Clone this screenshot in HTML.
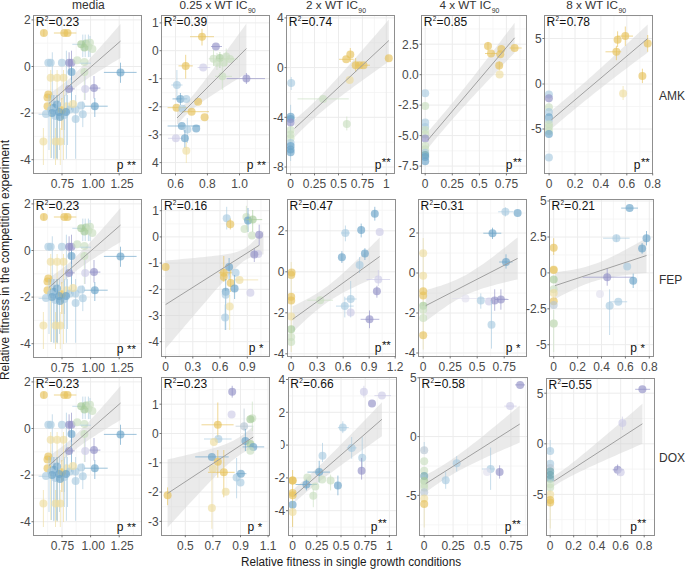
<!DOCTYPE html><html><head><meta charset="utf-8"><style>html,body{margin:0;padding:0;background:#fff;width:685px;height:569px;overflow:hidden}svg{display:block}</style></head><body><svg width="685" height="569" viewBox="0 0 685 569" font-family="Liberation Sans, sans-serif">
<rect width="685" height="569" fill="#fff"/>
<defs><filter id="soft" x="-5%" y="-5%" width="110%" height="110%"><feGaussianBlur stdDeviation="0.35"/></filter></defs>
<g>
<rect x="33.5" y="15.5" width="108.19999999999999" height="157.9" fill="#fff"/>
<line x1="47.7" y1="15.5" x2="47.7" y2="173.4" stroke="#f4f4f4" stroke-width="0.8"/>
<line x1="76.2" y1="15.5" x2="76.2" y2="173.4" stroke="#f4f4f4" stroke-width="0.8"/>
<line x1="104.8" y1="15.5" x2="104.8" y2="173.4" stroke="#f4f4f4" stroke-width="0.8"/>
<line x1="133.4" y1="15.5" x2="133.4" y2="173.4" stroke="#f4f4f4" stroke-width="0.8"/>
<line x1="33.5" y1="43.2" x2="141.7" y2="43.2" stroke="#f4f4f4" stroke-width="0.8"/>
<line x1="33.5" y1="89.8" x2="141.7" y2="89.8" stroke="#f4f4f4" stroke-width="0.8"/>
<line x1="33.5" y1="136.39999999999998" x2="141.7" y2="136.39999999999998" stroke="#f4f4f4" stroke-width="0.8"/>
<line x1="62" y1="15.5" x2="62" y2="173.4" stroke="#ececec" stroke-width="1"/>
<line x1="90.6" y1="15.5" x2="90.6" y2="173.4" stroke="#ececec" stroke-width="1"/>
<line x1="119.2" y1="15.5" x2="119.2" y2="173.4" stroke="#ececec" stroke-width="1"/>
<line x1="33.5" y1="19.9" x2="141.7" y2="19.9" stroke="#ececec" stroke-width="1"/>
<line x1="33.5" y1="66.5" x2="141.7" y2="66.5" stroke="#ececec" stroke-width="1"/>
<line x1="33.5" y1="113.1" x2="141.7" y2="113.1" stroke="#ececec" stroke-width="1"/>
<line x1="33.5" y1="159.7" x2="141.7" y2="159.7" stroke="#ececec" stroke-width="1"/>
<clipPath id="c140454145364480"><rect x="33.5" y="15.5" width="108.19999999999999" height="157.9"/></clipPath>
<g clip-path="url(#c140454145364480)"><g filter="url(#soft)">
<polygon points="49.0,93.89 51.38,92.29 53.77,90.66 56.15,88.98 58.53,87.26 60.92,85.48 63.3,83.64 65.68,81.74 68.07,79.76 70.45,77.71 72.83,75.58 75.22,73.38 77.6,71.1 79.98,68.76 82.37,66.36 84.75,63.91 87.13,61.42 89.52,58.89 91.9,56.32 94.28,53.72 96.67,51.1 99.05,48.46 101.43,45.8 103.82,43.12 106.2,40.43 108.58,37.73 110.97,35.02 113.35,32.3 115.73,29.57 118.12,26.84 120.5,24.1 120.5,58.1 118.12,59.51 115.73,60.93 113.35,62.36 110.97,63.79 108.58,65.23 106.2,66.69 103.82,68.15 101.43,69.63 99.05,71.12 96.67,72.63 94.28,74.17 91.9,75.72 89.52,77.31 87.13,78.93 84.75,80.59 82.37,82.29 79.98,84.04 77.6,85.86 75.22,87.74 72.83,89.69 70.45,91.71 68.07,93.81 65.68,95.99 63.3,98.24 60.92,100.55 58.53,102.93 56.15,105.36 53.77,107.84 51.38,110.36 49.0,112.91" fill="#d6d6d6" fill-opacity="0.5"/>
<line x1="43.9" y1="29.8" x2="43.9" y2="36.2" stroke="#e6c25a" stroke-width="1" stroke-opacity="0.65"/>
<circle cx="43.9" cy="33" r="4" fill="#e6c25a" fill-opacity="0.65"/>
<line x1="53.9" y1="33" x2="76.4" y2="33" stroke="#e6c25a" stroke-width="1" stroke-opacity="0.65"/>
<circle cx="64.3" cy="33" r="4" fill="#e6c25a" fill-opacity="0.65"/>
<circle cx="67.5" cy="33" r="4" fill="#e6c25a" fill-opacity="0.65"/>
<line x1="72.3" y1="44.3" x2="84.4" y2="44.3" stroke="#a9cbe0" stroke-width="1" stroke-opacity="0.65"/>
<line x1="82.8" y1="34.6" x2="82.8" y2="57.1" stroke="#a9cbe0" stroke-width="1" stroke-opacity="0.65"/>
<line x1="85.2" y1="34.6" x2="85.2" y2="57.1" stroke="#a9cbe0" stroke-width="1" stroke-opacity="0.65"/>
<line x1="88.4" y1="34.6" x2="88.4" y2="57.1" stroke="#a9cbe0" stroke-width="1" stroke-opacity="0.65"/>
<line x1="90" y1="36" x2="90" y2="57.1" stroke="#a9cbe0" stroke-width="1" stroke-opacity="0.65"/>
<circle cx="81.2" cy="44.3" r="4" fill="#a6cb99" fill-opacity="0.65"/>
<circle cx="86" cy="43.5" r="4" fill="#a6cb99" fill-opacity="0.65"/>
<circle cx="88.4" cy="46.7" r="4" fill="#cadfc0" fill-opacity="0.65"/>
<circle cx="92.4" cy="49.1" r="4" fill="#cadfc0" fill-opacity="0.65"/>
<circle cx="84.4" cy="47.5" r="4" fill="#a6cb99" fill-opacity="0.65"/>
<circle cx="90" cy="42.7" r="4" fill="#cadfc0" fill-opacity="0.65"/>
<line x1="66.4" y1="50.7" x2="66.4" y2="158.8" stroke="#a9cbe0" stroke-width="1" stroke-opacity="0.65"/>
<line x1="52.3" y1="52.3" x2="52.3" y2="109" stroke="#a9cbe0" stroke-width="1" stroke-opacity="0.65"/>
<circle cx="48.3" cy="62.7" r="4" fill="#a9cbe0" fill-opacity="0.65"/>
<circle cx="50.7" cy="62.7" r="4" fill="#a9cbe0" fill-opacity="0.65"/>
<circle cx="61.9" cy="62.7" r="4" fill="#a9cbe0" fill-opacity="0.65"/>
<line x1="69.1" y1="52.3" x2="69.1" y2="74.8" stroke="#9290c6" stroke-width="1" stroke-opacity="0.65"/>
<circle cx="69.1" cy="62.7" r="4" fill="#9290c6" fill-opacity="0.65"/>
<line x1="71.5" y1="50.7" x2="71.5" y2="80" stroke="#9290c6" stroke-width="1" stroke-opacity="0.65"/>
<circle cx="71.5" cy="62.7" r="4" fill="#9290c6" fill-opacity="0.65"/>
<circle cx="77.2" cy="60.3" r="4" fill="#cadfc0" fill-opacity="0.65"/>
<circle cx="84.4" cy="62" r="4" fill="#cadfc0" fill-opacity="0.65"/>
<line x1="79.6" y1="63.2" x2="90.8" y2="63.2" stroke="#a9cbe0" stroke-width="1" stroke-opacity="0.65"/>
<line x1="103.9" y1="72.4" x2="136.6" y2="72.4" stroke="#6aa3c8" stroke-width="1" stroke-opacity="0.65"/>
<line x1="120.5" y1="62.7" x2="120.5" y2="82.8" stroke="#6aa3c8" stroke-width="1" stroke-opacity="0.65"/>
<circle cx="120.5" cy="72.4" r="4" fill="#6aa3c8" fill-opacity="0.65"/>
<line x1="71.5" y1="66.4" x2="71.5" y2="109.8" stroke="#6aa3c8" stroke-width="1" stroke-opacity="0.65"/>
<circle cx="71.5" cy="72" r="4" fill="#6aa3c8" fill-opacity="0.65"/>
<line x1="84.4" y1="68" x2="84.4" y2="100" stroke="#cadfc0" stroke-width="1" stroke-opacity="0.65"/>
<circle cx="84.4" cy="72" r="4" fill="#cadfc0" fill-opacity="0.65"/>
<line x1="50.7" y1="70" x2="50.7" y2="158" stroke="#eedda0" stroke-width="1" stroke-opacity="0.65"/>
<circle cx="50.7" cy="77.7" r="4" fill="#eedda0" fill-opacity="0.65"/>
<line x1="57.1" y1="70" x2="57.1" y2="160" stroke="#eedda0" stroke-width="1" stroke-opacity="0.65"/>
<circle cx="57.1" cy="77.7" r="4" fill="#eedda0" fill-opacity="0.65"/>
<line x1="63.5" y1="70" x2="63.5" y2="160" stroke="#eedda0" stroke-width="1" stroke-opacity="0.65"/>
<circle cx="63.5" cy="77.7" r="4" fill="#eedda0" fill-opacity="0.65"/>
<line x1="65.1" y1="88.9" x2="74.8" y2="88.9" stroke="#9290c6" stroke-width="1" stroke-opacity="0.65"/>
<circle cx="69.1" cy="88.9" r="4" fill="#9290c6" fill-opacity="0.65"/>
<line x1="85.2" y1="76" x2="85.2" y2="100" stroke="#cdcbe6" stroke-width="1" stroke-opacity="0.65"/>
<circle cx="85.2" cy="88.9" r="4" fill="#cdcbe6" fill-opacity="0.65"/>
<line x1="89.2" y1="88.1" x2="100.4" y2="88.1" stroke="#9290c6" stroke-width="1" stroke-opacity="0.65"/>
<line x1="94" y1="76" x2="94" y2="98.5" stroke="#9290c6" stroke-width="1" stroke-opacity="0.65"/>
<circle cx="94" cy="88.1" r="4" fill="#9290c6" fill-opacity="0.65"/>
<circle cx="48.3" cy="94.5" r="4" fill="#e6c25a" fill-opacity="0.65"/>
<circle cx="47.5" cy="97.4" r="4" fill="#e6c25a" fill-opacity="0.65"/>
<circle cx="47.5" cy="106.2" r="4" fill="#e6c25a" fill-opacity="0.65"/>
<line x1="53.9" y1="95" x2="53.9" y2="158.8" stroke="#6aa3c8" stroke-width="1" stroke-opacity="0.65"/>
<circle cx="53.9" cy="107.8" r="4" fill="#6aa3c8" fill-opacity="0.65"/>
<line x1="57.1" y1="95" x2="57.1" y2="158.8" stroke="#6aa3c8" stroke-width="1" stroke-opacity="0.65"/>
<circle cx="57.1" cy="104.6" r="4" fill="#6aa3c8" fill-opacity="0.65"/>
<circle cx="55.5" cy="115.9" r="4" fill="#a9cbe0" fill-opacity="0.65"/>
<line x1="64.3" y1="97" x2="64.3" y2="130" stroke="#a9cbe0" stroke-width="1" stroke-opacity="0.65"/>
<circle cx="64.3" cy="115.1" r="4" fill="#a9cbe0" fill-opacity="0.65"/>
<line x1="61.9" y1="98" x2="61.9" y2="130" stroke="#e6c25a" stroke-width="1" stroke-opacity="0.65"/>
<circle cx="61.9" cy="110.3" r="4" fill="#e6c25a" fill-opacity="0.65"/>
<circle cx="66.7" cy="106.2" r="4" fill="#eedda0" fill-opacity="0.65"/>
<circle cx="69.9" cy="109.5" r="4" fill="#a9cbe0" fill-opacity="0.65"/>
<line x1="75.6" y1="95" x2="75.6" y2="158.8" stroke="#a9cbe0" stroke-width="1" stroke-opacity="0.65"/>
<circle cx="75.6" cy="109.5" r="4" fill="#a9cbe0" fill-opacity="0.65"/>
<circle cx="75.6" cy="119.1" r="4" fill="#a9cbe0" fill-opacity="0.65"/>
<circle cx="81.2" cy="105.4" r="4" fill="#a9cbe0" fill-opacity="0.65"/>
<line x1="82.8" y1="101.4" x2="82.8" y2="127.1" stroke="#a9cbe0" stroke-width="1" stroke-opacity="0.65"/>
<circle cx="82.8" cy="114.3" r="4" fill="#a9cbe0" fill-opacity="0.65"/>
<line x1="84.4" y1="106.2" x2="107.7" y2="106.2" stroke="#6aa3c8" stroke-width="1" stroke-opacity="0.65"/>
<line x1="94.8" y1="98" x2="94.8" y2="117" stroke="#6aa3c8" stroke-width="1" stroke-opacity="0.65"/>
<circle cx="94.8" cy="106.2" r="4" fill="#6aa3c8" fill-opacity="0.65"/>
<line x1="38.6" y1="114.3" x2="49.1" y2="114.3" stroke="#a9cbe0" stroke-width="1" stroke-opacity="0.65"/>
<line x1="49" y1="95" x2="49" y2="150" stroke="#a9cbe0" stroke-width="1" stroke-opacity="0.65"/>
<line x1="51.5" y1="95" x2="51.5" y2="158" stroke="#a9cbe0" stroke-width="1" stroke-opacity="0.65"/>
<line x1="56.3" y1="95" x2="56.3" y2="158" stroke="#a9cbe0" stroke-width="1" stroke-opacity="0.65"/>
<line x1="59.5" y1="95" x2="59.5" y2="150" stroke="#a9cbe0" stroke-width="1" stroke-opacity="0.65"/>
<line x1="64.3" y1="95" x2="64.3" y2="145" stroke="#a9cbe0" stroke-width="1" stroke-opacity="0.65"/>
<line x1="67.5" y1="95" x2="67.5" y2="145" stroke="#a9cbe0" stroke-width="1" stroke-opacity="0.65"/>
<circle cx="59" cy="112" r="4" fill="#6aa3c8" fill-opacity="0.65"/>
<circle cx="51" cy="110" r="4" fill="#a9cbe0" fill-opacity="0.65"/>
<circle cx="73" cy="104" r="4" fill="#eedda0" fill-opacity="0.65"/>
<circle cx="52" cy="113" r="4" fill="#6aa3c8" fill-opacity="0.65"/>
<circle cx="60" cy="117" r="4" fill="#6aa3c8" fill-opacity="0.65"/>
<circle cx="46" cy="114" r="4" fill="#a9cbe0" fill-opacity="0.65"/>
<circle cx="66" cy="112" r="4" fill="#6aa3c8" fill-opacity="0.65"/>
<line x1="43.4" y1="128" x2="43.4" y2="165" stroke="#eedda0" stroke-width="1" stroke-opacity="0.65"/>
<circle cx="43.4" cy="141.6" r="4" fill="#eedda0" fill-opacity="0.65"/>
<line x1="55.5" y1="128" x2="55.5" y2="165" stroke="#eedda0" stroke-width="1" stroke-opacity="0.65"/>
<circle cx="55.5" cy="141.6" r="4" fill="#eedda0" fill-opacity="0.65"/>
<line x1="60.3" y1="128" x2="60.3" y2="165" stroke="#eedda0" stroke-width="1" stroke-opacity="0.65"/>
<circle cx="60.3" cy="141.6" r="4" fill="#eedda0" fill-opacity="0.65"/>
<line x1="49" y1="103.4" x2="120.5" y2="41.1" stroke="#a0a0a0" stroke-width="1"/>
</g></g>
<rect x="33.5" y="15.5" width="108.0" height="158.0" fill="none" stroke="#8f8f8f" stroke-width="1"/>
<line x1="62" y1="173.4" x2="62" y2="175.4" stroke="#555" stroke-width="0.8"/>
<text x="62.5" y="187.5" text-anchor="middle" font-size="12" fill="#4a4a4a">0.75</text>
<line x1="90.6" y1="173.4" x2="90.6" y2="175.4" stroke="#555" stroke-width="0.8"/>
<text x="93.19999999999999" y="187.5" text-anchor="middle" font-size="12" fill="#4a4a4a">1.00</text>
<line x1="119.2" y1="173.4" x2="119.2" y2="175.4" stroke="#555" stroke-width="0.8"/>
<text x="122.10000000000001" y="187.5" text-anchor="middle" font-size="12" fill="#4a4a4a">1.25</text>
<line x1="31.5" y1="19.9" x2="33.5" y2="19.9" stroke="#555" stroke-width="0.8"/>
<text x="30.7" y="24.2" text-anchor="end" font-size="12" fill="#4a4a4a">2</text>
<line x1="31.5" y1="66.5" x2="33.5" y2="66.5" stroke="#555" stroke-width="0.8"/>
<text x="30.7" y="70.8" text-anchor="end" font-size="12" fill="#4a4a4a">0</text>
<line x1="31.5" y1="113.1" x2="33.5" y2="113.1" stroke="#555" stroke-width="0.8"/>
<text x="30.7" y="117.39999999999999" text-anchor="end" font-size="12" fill="#4a4a4a">-2</text>
<line x1="31.5" y1="159.7" x2="33.5" y2="159.7" stroke="#555" stroke-width="0.8"/>
<text x="30.7" y="164.0" text-anchor="end" font-size="12" fill="#4a4a4a">-4</text>
<text x="35.7" y="25.8" font-size="12" fill="#111">R<tspan font-size="6.4" dy="-4.9" dx="0.3">2</tspan><tspan dy="4.9" dx="0.2">=</tspan><tspan dx="0.3">0.23</tspan></text>
<text x="116.7" y="168.70000000000002" font-size="12" fill="#111">p<tspan font-size="11.5" dy="0.3" dx="3.6">**</tspan></text>
</g>
<g>
<rect x="33.5" y="199.5" width="108.19999999999999" height="157.8" fill="#fff"/>
<line x1="47.7" y1="199.5" x2="47.7" y2="357.3" stroke="#f4f4f4" stroke-width="0.8"/>
<line x1="76.2" y1="199.5" x2="76.2" y2="357.3" stroke="#f4f4f4" stroke-width="0.8"/>
<line x1="104.8" y1="199.5" x2="104.8" y2="357.3" stroke="#f4f4f4" stroke-width="0.8"/>
<line x1="133.4" y1="199.5" x2="133.4" y2="357.3" stroke="#f4f4f4" stroke-width="0.8"/>
<line x1="33.5" y1="227.2" x2="141.7" y2="227.2" stroke="#f4f4f4" stroke-width="0.8"/>
<line x1="33.5" y1="273.8" x2="141.7" y2="273.8" stroke="#f4f4f4" stroke-width="0.8"/>
<line x1="33.5" y1="320.4" x2="141.7" y2="320.4" stroke="#f4f4f4" stroke-width="0.8"/>
<line x1="62" y1="199.5" x2="62" y2="357.3" stroke="#ececec" stroke-width="1"/>
<line x1="90.6" y1="199.5" x2="90.6" y2="357.3" stroke="#ececec" stroke-width="1"/>
<line x1="119.2" y1="199.5" x2="119.2" y2="357.3" stroke="#ececec" stroke-width="1"/>
<line x1="33.5" y1="203.9" x2="141.7" y2="203.9" stroke="#ececec" stroke-width="1"/>
<line x1="33.5" y1="250.5" x2="141.7" y2="250.5" stroke="#ececec" stroke-width="1"/>
<line x1="33.5" y1="297.1" x2="141.7" y2="297.1" stroke="#ececec" stroke-width="1"/>
<line x1="33.5" y1="343.7" x2="141.7" y2="343.7" stroke="#ececec" stroke-width="1"/>
<clipPath id="c140454145359232"><rect x="33.5" y="199.5" width="108.19999999999999" height="157.8"/></clipPath>
<g clip-path="url(#c140454145359232)"><g filter="url(#soft)">
<polygon points="49.0,277.89 51.38,276.29 53.77,274.66 56.15,272.98 58.53,271.26 60.92,269.48 63.3,267.64 65.68,265.74 68.07,263.76 70.45,261.71 72.83,259.58 75.22,257.38 77.6,255.1 79.98,252.76 82.37,250.36 84.75,247.91 87.13,245.42 89.52,242.89 91.9,240.32 94.28,237.72 96.67,235.1 99.05,232.46 101.43,229.8 103.82,227.12 106.2,224.43 108.58,221.73 110.97,219.02 113.35,216.3 115.73,213.57 118.12,210.84 120.5,208.1 120.5,242.1 118.12,243.51 115.73,244.93 113.35,246.36 110.97,247.79 108.58,249.23 106.2,250.69 103.82,252.15 101.43,253.63 99.05,255.12 96.67,256.63 94.28,258.17 91.9,259.72 89.52,261.31 87.13,262.93 84.75,264.59 82.37,266.29 79.98,268.04 77.6,269.86 75.22,271.74 72.83,273.69 70.45,275.71 68.07,277.81 65.68,279.99 63.3,282.24 60.92,284.55 58.53,286.93 56.15,289.36 53.77,291.84 51.38,294.36 49.0,296.91" fill="#d6d6d6" fill-opacity="0.5"/>
<line x1="43.9" y1="213.8" x2="43.9" y2="220.2" stroke="#e6c25a" stroke-width="1" stroke-opacity="0.65"/>
<circle cx="43.9" cy="217" r="4" fill="#e6c25a" fill-opacity="0.65"/>
<line x1="53.9" y1="217" x2="76.4" y2="217" stroke="#e6c25a" stroke-width="1" stroke-opacity="0.65"/>
<circle cx="64.3" cy="217" r="4" fill="#e6c25a" fill-opacity="0.65"/>
<circle cx="67.5" cy="217" r="4" fill="#e6c25a" fill-opacity="0.65"/>
<line x1="72.3" y1="228.3" x2="84.4" y2="228.3" stroke="#a9cbe0" stroke-width="1" stroke-opacity="0.65"/>
<line x1="82.8" y1="218.6" x2="82.8" y2="241.1" stroke="#a9cbe0" stroke-width="1" stroke-opacity="0.65"/>
<line x1="85.2" y1="218.6" x2="85.2" y2="241.1" stroke="#a9cbe0" stroke-width="1" stroke-opacity="0.65"/>
<line x1="88.4" y1="218.6" x2="88.4" y2="241.1" stroke="#a9cbe0" stroke-width="1" stroke-opacity="0.65"/>
<line x1="90" y1="220" x2="90" y2="241.1" stroke="#a9cbe0" stroke-width="1" stroke-opacity="0.65"/>
<circle cx="81.2" cy="228.3" r="4" fill="#a6cb99" fill-opacity="0.65"/>
<circle cx="86" cy="227.5" r="4" fill="#a6cb99" fill-opacity="0.65"/>
<circle cx="88.4" cy="230.7" r="4" fill="#cadfc0" fill-opacity="0.65"/>
<circle cx="92.4" cy="233.1" r="4" fill="#cadfc0" fill-opacity="0.65"/>
<circle cx="84.4" cy="231.5" r="4" fill="#a6cb99" fill-opacity="0.65"/>
<circle cx="90" cy="226.7" r="4" fill="#cadfc0" fill-opacity="0.65"/>
<line x1="66.4" y1="234.7" x2="66.4" y2="342.8" stroke="#a9cbe0" stroke-width="1" stroke-opacity="0.65"/>
<line x1="52.3" y1="236.3" x2="52.3" y2="293" stroke="#a9cbe0" stroke-width="1" stroke-opacity="0.65"/>
<circle cx="48.3" cy="246.7" r="4" fill="#a9cbe0" fill-opacity="0.65"/>
<circle cx="50.7" cy="246.7" r="4" fill="#a9cbe0" fill-opacity="0.65"/>
<circle cx="61.9" cy="246.7" r="4" fill="#a9cbe0" fill-opacity="0.65"/>
<line x1="69.1" y1="236.3" x2="69.1" y2="258.8" stroke="#9290c6" stroke-width="1" stroke-opacity="0.65"/>
<circle cx="69.1" cy="246.7" r="4" fill="#9290c6" fill-opacity="0.65"/>
<line x1="71.5" y1="234.7" x2="71.5" y2="264" stroke="#9290c6" stroke-width="1" stroke-opacity="0.65"/>
<circle cx="71.5" cy="246.7" r="4" fill="#9290c6" fill-opacity="0.65"/>
<circle cx="77.2" cy="244.3" r="4" fill="#cadfc0" fill-opacity="0.65"/>
<circle cx="84.4" cy="246" r="4" fill="#cadfc0" fill-opacity="0.65"/>
<line x1="79.6" y1="247.2" x2="90.8" y2="247.2" stroke="#a9cbe0" stroke-width="1" stroke-opacity="0.65"/>
<line x1="103.9" y1="256.4" x2="136.6" y2="256.4" stroke="#6aa3c8" stroke-width="1" stroke-opacity="0.65"/>
<line x1="120.5" y1="246.7" x2="120.5" y2="266.8" stroke="#6aa3c8" stroke-width="1" stroke-opacity="0.65"/>
<circle cx="120.5" cy="256.4" r="4" fill="#6aa3c8" fill-opacity="0.65"/>
<line x1="71.5" y1="250.4" x2="71.5" y2="293.8" stroke="#6aa3c8" stroke-width="1" stroke-opacity="0.65"/>
<circle cx="71.5" cy="256" r="4" fill="#6aa3c8" fill-opacity="0.65"/>
<line x1="84.4" y1="252" x2="84.4" y2="284" stroke="#cadfc0" stroke-width="1" stroke-opacity="0.65"/>
<circle cx="84.4" cy="256" r="4" fill="#cadfc0" fill-opacity="0.65"/>
<line x1="50.7" y1="254" x2="50.7" y2="342" stroke="#eedda0" stroke-width="1" stroke-opacity="0.65"/>
<circle cx="50.7" cy="261.7" r="4" fill="#eedda0" fill-opacity="0.65"/>
<line x1="57.1" y1="254" x2="57.1" y2="344" stroke="#eedda0" stroke-width="1" stroke-opacity="0.65"/>
<circle cx="57.1" cy="261.7" r="4" fill="#eedda0" fill-opacity="0.65"/>
<line x1="63.5" y1="254" x2="63.5" y2="344" stroke="#eedda0" stroke-width="1" stroke-opacity="0.65"/>
<circle cx="63.5" cy="261.7" r="4" fill="#eedda0" fill-opacity="0.65"/>
<line x1="65.1" y1="272.9" x2="74.8" y2="272.9" stroke="#9290c6" stroke-width="1" stroke-opacity="0.65"/>
<circle cx="69.1" cy="272.9" r="4" fill="#9290c6" fill-opacity="0.65"/>
<line x1="85.2" y1="260" x2="85.2" y2="284" stroke="#cdcbe6" stroke-width="1" stroke-opacity="0.65"/>
<circle cx="85.2" cy="272.9" r="4" fill="#cdcbe6" fill-opacity="0.65"/>
<line x1="89.2" y1="272.1" x2="100.4" y2="272.1" stroke="#9290c6" stroke-width="1" stroke-opacity="0.65"/>
<line x1="94" y1="260" x2="94" y2="282.5" stroke="#9290c6" stroke-width="1" stroke-opacity="0.65"/>
<circle cx="94" cy="272.1" r="4" fill="#9290c6" fill-opacity="0.65"/>
<circle cx="48.3" cy="278.5" r="4" fill="#e6c25a" fill-opacity="0.65"/>
<circle cx="47.5" cy="281.4" r="4" fill="#e6c25a" fill-opacity="0.65"/>
<circle cx="47.5" cy="290.2" r="4" fill="#e6c25a" fill-opacity="0.65"/>
<line x1="53.9" y1="279" x2="53.9" y2="342.8" stroke="#6aa3c8" stroke-width="1" stroke-opacity="0.65"/>
<circle cx="53.9" cy="291.8" r="4" fill="#6aa3c8" fill-opacity="0.65"/>
<line x1="57.1" y1="279" x2="57.1" y2="342.8" stroke="#6aa3c8" stroke-width="1" stroke-opacity="0.65"/>
<circle cx="57.1" cy="288.6" r="4" fill="#6aa3c8" fill-opacity="0.65"/>
<circle cx="55.5" cy="299.9" r="4" fill="#a9cbe0" fill-opacity="0.65"/>
<line x1="64.3" y1="281" x2="64.3" y2="314" stroke="#a9cbe0" stroke-width="1" stroke-opacity="0.65"/>
<circle cx="64.3" cy="299.1" r="4" fill="#a9cbe0" fill-opacity="0.65"/>
<line x1="61.9" y1="282" x2="61.9" y2="314" stroke="#e6c25a" stroke-width="1" stroke-opacity="0.65"/>
<circle cx="61.9" cy="294.3" r="4" fill="#e6c25a" fill-opacity="0.65"/>
<circle cx="66.7" cy="290.2" r="4" fill="#eedda0" fill-opacity="0.65"/>
<circle cx="69.9" cy="293.5" r="4" fill="#a9cbe0" fill-opacity="0.65"/>
<line x1="75.6" y1="279" x2="75.6" y2="342.8" stroke="#a9cbe0" stroke-width="1" stroke-opacity="0.65"/>
<circle cx="75.6" cy="293.5" r="4" fill="#a9cbe0" fill-opacity="0.65"/>
<circle cx="75.6" cy="303.1" r="4" fill="#a9cbe0" fill-opacity="0.65"/>
<circle cx="81.2" cy="289.4" r="4" fill="#a9cbe0" fill-opacity="0.65"/>
<line x1="82.8" y1="285.4" x2="82.8" y2="311.1" stroke="#a9cbe0" stroke-width="1" stroke-opacity="0.65"/>
<circle cx="82.8" cy="298.3" r="4" fill="#a9cbe0" fill-opacity="0.65"/>
<line x1="84.4" y1="290.2" x2="107.7" y2="290.2" stroke="#6aa3c8" stroke-width="1" stroke-opacity="0.65"/>
<line x1="94.8" y1="282" x2="94.8" y2="301" stroke="#6aa3c8" stroke-width="1" stroke-opacity="0.65"/>
<circle cx="94.8" cy="290.2" r="4" fill="#6aa3c8" fill-opacity="0.65"/>
<line x1="38.6" y1="298.3" x2="49.1" y2="298.3" stroke="#a9cbe0" stroke-width="1" stroke-opacity="0.65"/>
<line x1="49" y1="279" x2="49" y2="334" stroke="#a9cbe0" stroke-width="1" stroke-opacity="0.65"/>
<line x1="51.5" y1="279" x2="51.5" y2="342" stroke="#a9cbe0" stroke-width="1" stroke-opacity="0.65"/>
<line x1="56.3" y1="279" x2="56.3" y2="342" stroke="#a9cbe0" stroke-width="1" stroke-opacity="0.65"/>
<line x1="59.5" y1="279" x2="59.5" y2="334" stroke="#a9cbe0" stroke-width="1" stroke-opacity="0.65"/>
<line x1="64.3" y1="279" x2="64.3" y2="329" stroke="#a9cbe0" stroke-width="1" stroke-opacity="0.65"/>
<line x1="67.5" y1="279" x2="67.5" y2="329" stroke="#a9cbe0" stroke-width="1" stroke-opacity="0.65"/>
<circle cx="59" cy="296" r="4" fill="#6aa3c8" fill-opacity="0.65"/>
<circle cx="51" cy="294" r="4" fill="#a9cbe0" fill-opacity="0.65"/>
<circle cx="73" cy="288" r="4" fill="#eedda0" fill-opacity="0.65"/>
<circle cx="52" cy="297" r="4" fill="#6aa3c8" fill-opacity="0.65"/>
<circle cx="60" cy="301" r="4" fill="#6aa3c8" fill-opacity="0.65"/>
<circle cx="46" cy="298" r="4" fill="#a9cbe0" fill-opacity="0.65"/>
<circle cx="66" cy="296" r="4" fill="#6aa3c8" fill-opacity="0.65"/>
<line x1="43.4" y1="312" x2="43.4" y2="349" stroke="#eedda0" stroke-width="1" stroke-opacity="0.65"/>
<circle cx="43.4" cy="325.6" r="4" fill="#eedda0" fill-opacity="0.65"/>
<line x1="55.5" y1="312" x2="55.5" y2="349" stroke="#eedda0" stroke-width="1" stroke-opacity="0.65"/>
<circle cx="55.5" cy="325.6" r="4" fill="#eedda0" fill-opacity="0.65"/>
<line x1="60.3" y1="312" x2="60.3" y2="349" stroke="#eedda0" stroke-width="1" stroke-opacity="0.65"/>
<circle cx="60.3" cy="325.6" r="4" fill="#eedda0" fill-opacity="0.65"/>
<line x1="49" y1="287.4" x2="120.5" y2="225.1" stroke="#a0a0a0" stroke-width="1"/>
</g></g>
<rect x="33.5" y="199.5" width="108.0" height="158.0" fill="none" stroke="#8f8f8f" stroke-width="1"/>
<line x1="62" y1="357.3" x2="62" y2="359.3" stroke="#555" stroke-width="0.8"/>
<text x="62.5" y="372.0" text-anchor="middle" font-size="12" fill="#4a4a4a">0.75</text>
<line x1="90.6" y1="357.3" x2="90.6" y2="359.3" stroke="#555" stroke-width="0.8"/>
<text x="93.19999999999999" y="372.0" text-anchor="middle" font-size="12" fill="#4a4a4a">1.00</text>
<line x1="119.2" y1="357.3" x2="119.2" y2="359.3" stroke="#555" stroke-width="0.8"/>
<text x="122.10000000000001" y="372.0" text-anchor="middle" font-size="12" fill="#4a4a4a">1.25</text>
<line x1="31.5" y1="203.9" x2="33.5" y2="203.9" stroke="#555" stroke-width="0.8"/>
<text x="30.7" y="208.20000000000002" text-anchor="end" font-size="12" fill="#4a4a4a">2</text>
<line x1="31.5" y1="250.5" x2="33.5" y2="250.5" stroke="#555" stroke-width="0.8"/>
<text x="30.7" y="254.8" text-anchor="end" font-size="12" fill="#4a4a4a">0</text>
<line x1="31.5" y1="297.1" x2="33.5" y2="297.1" stroke="#555" stroke-width="0.8"/>
<text x="30.7" y="301.40000000000003" text-anchor="end" font-size="12" fill="#4a4a4a">-2</text>
<line x1="31.5" y1="343.7" x2="33.5" y2="343.7" stroke="#555" stroke-width="0.8"/>
<text x="30.7" y="348.0" text-anchor="end" font-size="12" fill="#4a4a4a">-4</text>
<text x="35.7" y="209.8" font-size="12" fill="#111">R<tspan font-size="6.4" dy="-4.9" dx="0.3">2</tspan><tspan dy="4.9" dx="0.2">=</tspan><tspan dx="0.3">0.23</tspan></text>
<text x="116.7" y="352.6" font-size="12" fill="#111">p<tspan font-size="11.5" dy="0.3" dx="3.6">**</tspan></text>
</g>
<g>
<rect x="33.5" y="377.6" width="108.19999999999999" height="157.69999999999993" fill="#fff"/>
<line x1="47.7" y1="377.6" x2="47.7" y2="535.3" stroke="#f4f4f4" stroke-width="0.8"/>
<line x1="76.2" y1="377.6" x2="76.2" y2="535.3" stroke="#f4f4f4" stroke-width="0.8"/>
<line x1="104.8" y1="377.6" x2="104.8" y2="535.3" stroke="#f4f4f4" stroke-width="0.8"/>
<line x1="133.4" y1="377.6" x2="133.4" y2="535.3" stroke="#f4f4f4" stroke-width="0.8"/>
<line x1="33.5" y1="405.2" x2="141.7" y2="405.2" stroke="#f4f4f4" stroke-width="0.8"/>
<line x1="33.5" y1="451.8" x2="141.7" y2="451.8" stroke="#f4f4f4" stroke-width="0.8"/>
<line x1="33.5" y1="498.40000000000003" x2="141.7" y2="498.40000000000003" stroke="#f4f4f4" stroke-width="0.8"/>
<line x1="62" y1="377.6" x2="62" y2="535.3" stroke="#ececec" stroke-width="1"/>
<line x1="90.6" y1="377.6" x2="90.6" y2="535.3" stroke="#ececec" stroke-width="1"/>
<line x1="119.2" y1="377.6" x2="119.2" y2="535.3" stroke="#ececec" stroke-width="1"/>
<line x1="33.5" y1="381.9" x2="141.7" y2="381.9" stroke="#ececec" stroke-width="1"/>
<line x1="33.5" y1="428.5" x2="141.7" y2="428.5" stroke="#ececec" stroke-width="1"/>
<line x1="33.5" y1="475.1" x2="141.7" y2="475.1" stroke="#ececec" stroke-width="1"/>
<line x1="33.5" y1="521.7" x2="141.7" y2="521.7" stroke="#ececec" stroke-width="1"/>
<clipPath id="c140454145515584"><rect x="33.5" y="377.6" width="108.19999999999999" height="157.69999999999993"/></clipPath>
<g clip-path="url(#c140454145515584)"><g filter="url(#soft)">
<polygon points="49.0,455.89 51.38,454.29 53.77,452.66 56.15,450.98 58.53,449.26 60.92,447.48 63.3,445.64 65.68,443.74 68.07,441.76 70.45,439.71 72.83,437.58 75.22,435.38 77.6,433.1 79.98,430.76 82.37,428.36 84.75,425.91 87.13,423.42 89.52,420.89 91.9,418.32 94.28,415.72 96.67,413.1 99.05,410.46 101.43,407.8 103.82,405.12 106.2,402.43 108.58,399.73 110.97,397.02 113.35,394.3 115.73,391.57 118.12,388.84 120.5,386.1 120.5,420.1 118.12,421.51 115.73,422.93 113.35,424.36 110.97,425.79 108.58,427.23 106.2,428.69 103.82,430.15 101.43,431.63 99.05,433.12 96.67,434.63 94.28,436.17 91.9,437.72 89.52,439.31 87.13,440.93 84.75,442.59 82.37,444.29 79.98,446.04 77.6,447.86 75.22,449.74 72.83,451.69 70.45,453.71 68.07,455.81 65.68,457.99 63.3,460.24 60.92,462.55 58.53,464.93 56.15,467.36 53.77,469.84 51.38,472.36 49.0,474.91" fill="#d6d6d6" fill-opacity="0.5"/>
<line x1="43.9" y1="391.8" x2="43.9" y2="398.2" stroke="#e6c25a" stroke-width="1" stroke-opacity="0.65"/>
<circle cx="43.9" cy="395" r="4" fill="#e6c25a" fill-opacity="0.65"/>
<line x1="53.9" y1="395" x2="76.4" y2="395" stroke="#e6c25a" stroke-width="1" stroke-opacity="0.65"/>
<circle cx="64.3" cy="395" r="4" fill="#e6c25a" fill-opacity="0.65"/>
<circle cx="67.5" cy="395" r="4" fill="#e6c25a" fill-opacity="0.65"/>
<line x1="72.3" y1="406.3" x2="84.4" y2="406.3" stroke="#a9cbe0" stroke-width="1" stroke-opacity="0.65"/>
<line x1="82.8" y1="396.6" x2="82.8" y2="419.1" stroke="#a9cbe0" stroke-width="1" stroke-opacity="0.65"/>
<line x1="85.2" y1="396.6" x2="85.2" y2="419.1" stroke="#a9cbe0" stroke-width="1" stroke-opacity="0.65"/>
<line x1="88.4" y1="396.6" x2="88.4" y2="419.1" stroke="#a9cbe0" stroke-width="1" stroke-opacity="0.65"/>
<line x1="90" y1="398" x2="90" y2="419.1" stroke="#a9cbe0" stroke-width="1" stroke-opacity="0.65"/>
<circle cx="81.2" cy="406.3" r="4" fill="#a6cb99" fill-opacity="0.65"/>
<circle cx="86" cy="405.5" r="4" fill="#a6cb99" fill-opacity="0.65"/>
<circle cx="88.4" cy="408.7" r="4" fill="#cadfc0" fill-opacity="0.65"/>
<circle cx="92.4" cy="411.1" r="4" fill="#cadfc0" fill-opacity="0.65"/>
<circle cx="84.4" cy="409.5" r="4" fill="#a6cb99" fill-opacity="0.65"/>
<circle cx="90" cy="404.7" r="4" fill="#cadfc0" fill-opacity="0.65"/>
<line x1="66.4" y1="412.7" x2="66.4" y2="520.8" stroke="#a9cbe0" stroke-width="1" stroke-opacity="0.65"/>
<line x1="52.3" y1="414.3" x2="52.3" y2="471" stroke="#a9cbe0" stroke-width="1" stroke-opacity="0.65"/>
<circle cx="48.3" cy="424.7" r="4" fill="#a9cbe0" fill-opacity="0.65"/>
<circle cx="50.7" cy="424.7" r="4" fill="#a9cbe0" fill-opacity="0.65"/>
<circle cx="61.9" cy="424.7" r="4" fill="#a9cbe0" fill-opacity="0.65"/>
<line x1="69.1" y1="414.3" x2="69.1" y2="436.8" stroke="#9290c6" stroke-width="1" stroke-opacity="0.65"/>
<circle cx="69.1" cy="424.7" r="4" fill="#9290c6" fill-opacity="0.65"/>
<line x1="71.5" y1="412.7" x2="71.5" y2="442" stroke="#9290c6" stroke-width="1" stroke-opacity="0.65"/>
<circle cx="71.5" cy="424.7" r="4" fill="#9290c6" fill-opacity="0.65"/>
<circle cx="77.2" cy="422.3" r="4" fill="#cadfc0" fill-opacity="0.65"/>
<circle cx="84.4" cy="424" r="4" fill="#cadfc0" fill-opacity="0.65"/>
<line x1="79.6" y1="425.2" x2="90.8" y2="425.2" stroke="#a9cbe0" stroke-width="1" stroke-opacity="0.65"/>
<line x1="103.9" y1="434.4" x2="136.6" y2="434.4" stroke="#6aa3c8" stroke-width="1" stroke-opacity="0.65"/>
<line x1="120.5" y1="424.7" x2="120.5" y2="444.8" stroke="#6aa3c8" stroke-width="1" stroke-opacity="0.65"/>
<circle cx="120.5" cy="434.4" r="4" fill="#6aa3c8" fill-opacity="0.65"/>
<line x1="71.5" y1="428.4" x2="71.5" y2="471.8" stroke="#6aa3c8" stroke-width="1" stroke-opacity="0.65"/>
<circle cx="71.5" cy="434" r="4" fill="#6aa3c8" fill-opacity="0.65"/>
<line x1="84.4" y1="430" x2="84.4" y2="462" stroke="#cadfc0" stroke-width="1" stroke-opacity="0.65"/>
<circle cx="84.4" cy="434" r="4" fill="#cadfc0" fill-opacity="0.65"/>
<line x1="50.7" y1="432" x2="50.7" y2="520" stroke="#eedda0" stroke-width="1" stroke-opacity="0.65"/>
<circle cx="50.7" cy="439.7" r="4" fill="#eedda0" fill-opacity="0.65"/>
<line x1="57.1" y1="432" x2="57.1" y2="522" stroke="#eedda0" stroke-width="1" stroke-opacity="0.65"/>
<circle cx="57.1" cy="439.7" r="4" fill="#eedda0" fill-opacity="0.65"/>
<line x1="63.5" y1="432" x2="63.5" y2="522" stroke="#eedda0" stroke-width="1" stroke-opacity="0.65"/>
<circle cx="63.5" cy="439.7" r="4" fill="#eedda0" fill-opacity="0.65"/>
<line x1="65.1" y1="450.9" x2="74.8" y2="450.9" stroke="#9290c6" stroke-width="1" stroke-opacity="0.65"/>
<circle cx="69.1" cy="450.9" r="4" fill="#9290c6" fill-opacity="0.65"/>
<line x1="85.2" y1="438" x2="85.2" y2="462" stroke="#cdcbe6" stroke-width="1" stroke-opacity="0.65"/>
<circle cx="85.2" cy="450.9" r="4" fill="#cdcbe6" fill-opacity="0.65"/>
<line x1="89.2" y1="450.1" x2="100.4" y2="450.1" stroke="#9290c6" stroke-width="1" stroke-opacity="0.65"/>
<line x1="94" y1="438" x2="94" y2="460.5" stroke="#9290c6" stroke-width="1" stroke-opacity="0.65"/>
<circle cx="94" cy="450.1" r="4" fill="#9290c6" fill-opacity="0.65"/>
<circle cx="48.3" cy="456.5" r="4" fill="#e6c25a" fill-opacity="0.65"/>
<circle cx="47.5" cy="459.4" r="4" fill="#e6c25a" fill-opacity="0.65"/>
<circle cx="47.5" cy="468.2" r="4" fill="#e6c25a" fill-opacity="0.65"/>
<line x1="53.9" y1="457" x2="53.9" y2="520.8" stroke="#6aa3c8" stroke-width="1" stroke-opacity="0.65"/>
<circle cx="53.9" cy="469.8" r="4" fill="#6aa3c8" fill-opacity="0.65"/>
<line x1="57.1" y1="457" x2="57.1" y2="520.8" stroke="#6aa3c8" stroke-width="1" stroke-opacity="0.65"/>
<circle cx="57.1" cy="466.6" r="4" fill="#6aa3c8" fill-opacity="0.65"/>
<circle cx="55.5" cy="477.9" r="4" fill="#a9cbe0" fill-opacity="0.65"/>
<line x1="64.3" y1="459" x2="64.3" y2="492" stroke="#a9cbe0" stroke-width="1" stroke-opacity="0.65"/>
<circle cx="64.3" cy="477.1" r="4" fill="#a9cbe0" fill-opacity="0.65"/>
<line x1="61.9" y1="460" x2="61.9" y2="492" stroke="#e6c25a" stroke-width="1" stroke-opacity="0.65"/>
<circle cx="61.9" cy="472.3" r="4" fill="#e6c25a" fill-opacity="0.65"/>
<circle cx="66.7" cy="468.2" r="4" fill="#eedda0" fill-opacity="0.65"/>
<circle cx="69.9" cy="471.5" r="4" fill="#a9cbe0" fill-opacity="0.65"/>
<line x1="75.6" y1="457" x2="75.6" y2="520.8" stroke="#a9cbe0" stroke-width="1" stroke-opacity="0.65"/>
<circle cx="75.6" cy="471.5" r="4" fill="#a9cbe0" fill-opacity="0.65"/>
<circle cx="75.6" cy="481.1" r="4" fill="#a9cbe0" fill-opacity="0.65"/>
<circle cx="81.2" cy="467.4" r="4" fill="#a9cbe0" fill-opacity="0.65"/>
<line x1="82.8" y1="463.4" x2="82.8" y2="489.1" stroke="#a9cbe0" stroke-width="1" stroke-opacity="0.65"/>
<circle cx="82.8" cy="476.3" r="4" fill="#a9cbe0" fill-opacity="0.65"/>
<line x1="84.4" y1="468.2" x2="107.7" y2="468.2" stroke="#6aa3c8" stroke-width="1" stroke-opacity="0.65"/>
<line x1="94.8" y1="460" x2="94.8" y2="479" stroke="#6aa3c8" stroke-width="1" stroke-opacity="0.65"/>
<circle cx="94.8" cy="468.2" r="4" fill="#6aa3c8" fill-opacity="0.65"/>
<line x1="38.6" y1="476.3" x2="49.1" y2="476.3" stroke="#a9cbe0" stroke-width="1" stroke-opacity="0.65"/>
<line x1="49" y1="457" x2="49" y2="512" stroke="#a9cbe0" stroke-width="1" stroke-opacity="0.65"/>
<line x1="51.5" y1="457" x2="51.5" y2="520" stroke="#a9cbe0" stroke-width="1" stroke-opacity="0.65"/>
<line x1="56.3" y1="457" x2="56.3" y2="520" stroke="#a9cbe0" stroke-width="1" stroke-opacity="0.65"/>
<line x1="59.5" y1="457" x2="59.5" y2="512" stroke="#a9cbe0" stroke-width="1" stroke-opacity="0.65"/>
<line x1="64.3" y1="457" x2="64.3" y2="507" stroke="#a9cbe0" stroke-width="1" stroke-opacity="0.65"/>
<line x1="67.5" y1="457" x2="67.5" y2="507" stroke="#a9cbe0" stroke-width="1" stroke-opacity="0.65"/>
<circle cx="59" cy="474" r="4" fill="#6aa3c8" fill-opacity="0.65"/>
<circle cx="51" cy="472" r="4" fill="#a9cbe0" fill-opacity="0.65"/>
<circle cx="73" cy="466" r="4" fill="#eedda0" fill-opacity="0.65"/>
<circle cx="52" cy="475" r="4" fill="#6aa3c8" fill-opacity="0.65"/>
<circle cx="60" cy="479" r="4" fill="#6aa3c8" fill-opacity="0.65"/>
<circle cx="46" cy="476" r="4" fill="#a9cbe0" fill-opacity="0.65"/>
<circle cx="66" cy="474" r="4" fill="#6aa3c8" fill-opacity="0.65"/>
<line x1="43.4" y1="490" x2="43.4" y2="527" stroke="#eedda0" stroke-width="1" stroke-opacity="0.65"/>
<circle cx="43.4" cy="503.6" r="4" fill="#eedda0" fill-opacity="0.65"/>
<line x1="55.5" y1="490" x2="55.5" y2="527" stroke="#eedda0" stroke-width="1" stroke-opacity="0.65"/>
<circle cx="55.5" cy="503.6" r="4" fill="#eedda0" fill-opacity="0.65"/>
<line x1="60.3" y1="490" x2="60.3" y2="527" stroke="#eedda0" stroke-width="1" stroke-opacity="0.65"/>
<circle cx="60.3" cy="503.6" r="4" fill="#eedda0" fill-opacity="0.65"/>
<line x1="49" y1="465.4" x2="120.5" y2="403.1" stroke="#a0a0a0" stroke-width="1"/>
</g></g>
<rect x="33.5" y="377.5" width="108.0" height="158.0" fill="none" stroke="#8f8f8f" stroke-width="1"/>
<line x1="62" y1="535.3" x2="62" y2="537.3" stroke="#555" stroke-width="0.8"/>
<text x="62.5" y="550.0" text-anchor="middle" font-size="12" fill="#4a4a4a">0.75</text>
<line x1="90.6" y1="535.3" x2="90.6" y2="537.3" stroke="#555" stroke-width="0.8"/>
<text x="93.19999999999999" y="550.0" text-anchor="middle" font-size="12" fill="#4a4a4a">1.00</text>
<line x1="119.2" y1="535.3" x2="119.2" y2="537.3" stroke="#555" stroke-width="0.8"/>
<text x="122.10000000000001" y="550.0" text-anchor="middle" font-size="12" fill="#4a4a4a">1.25</text>
<line x1="31.5" y1="381.9" x2="33.5" y2="381.9" stroke="#555" stroke-width="0.8"/>
<text x="30.7" y="386.2" text-anchor="end" font-size="12" fill="#4a4a4a">2</text>
<line x1="31.5" y1="428.5" x2="33.5" y2="428.5" stroke="#555" stroke-width="0.8"/>
<text x="30.7" y="432.8" text-anchor="end" font-size="12" fill="#4a4a4a">0</text>
<line x1="31.5" y1="475.1" x2="33.5" y2="475.1" stroke="#555" stroke-width="0.8"/>
<text x="30.7" y="479.40000000000003" text-anchor="end" font-size="12" fill="#4a4a4a">-2</text>
<line x1="31.5" y1="521.7" x2="33.5" y2="521.7" stroke="#555" stroke-width="0.8"/>
<text x="30.7" y="526.0" text-anchor="end" font-size="12" fill="#4a4a4a">-4</text>
<text x="35.7" y="387.90000000000003" font-size="12" fill="#111">R<tspan font-size="6.4" dy="-4.9" dx="0.3">2</tspan><tspan dy="4.9" dx="0.2">=</tspan><tspan dx="0.3">0.23</tspan></text>
<text x="116.7" y="530.5999999999999" font-size="12" fill="#111">p<tspan font-size="11.5" dy="0.3" dx="3.6">**</tspan></text>
</g>
<g>
<rect x="161.5" y="15.5" width="108.0" height="157.9" fill="#fff"/>
<line x1="191.5" y1="15.5" x2="191.5" y2="173.4" stroke="#f4f4f4" stroke-width="0.8"/>
<line x1="223.5" y1="15.5" x2="223.5" y2="173.4" stroke="#f4f4f4" stroke-width="0.8"/>
<line x1="255.5" y1="15.5" x2="255.5" y2="173.4" stroke="#f4f4f4" stroke-width="0.8"/>
<line x1="161.5" y1="36.8" x2="269.5" y2="36.8" stroke="#f4f4f4" stroke-width="0.8"/>
<line x1="161.5" y1="64.7" x2="269.5" y2="64.7" stroke="#f4f4f4" stroke-width="0.8"/>
<line x1="161.5" y1="92.75" x2="269.5" y2="92.75" stroke="#f4f4f4" stroke-width="0.8"/>
<line x1="161.5" y1="120.80000000000001" x2="269.5" y2="120.80000000000001" stroke="#f4f4f4" stroke-width="0.8"/>
<line x1="161.5" y1="148.7" x2="269.5" y2="148.7" stroke="#f4f4f4" stroke-width="0.8"/>
<line x1="175.5" y1="15.5" x2="175.5" y2="173.4" stroke="#ececec" stroke-width="1"/>
<line x1="207.4" y1="15.5" x2="207.4" y2="173.4" stroke="#ececec" stroke-width="1"/>
<line x1="239.5" y1="15.5" x2="239.5" y2="173.4" stroke="#ececec" stroke-width="1"/>
<line x1="161.5" y1="22.9" x2="269.5" y2="22.9" stroke="#ececec" stroke-width="1"/>
<line x1="161.5" y1="50.7" x2="269.5" y2="50.7" stroke="#ececec" stroke-width="1"/>
<line x1="161.5" y1="78.7" x2="269.5" y2="78.7" stroke="#ececec" stroke-width="1"/>
<line x1="161.5" y1="106.8" x2="269.5" y2="106.8" stroke="#ececec" stroke-width="1"/>
<line x1="161.5" y1="134.8" x2="269.5" y2="134.8" stroke="#ececec" stroke-width="1"/>
<line x1="161.5" y1="162.6" x2="269.5" y2="162.6" stroke="#ececec" stroke-width="1"/>
<clipPath id="c140454145511488"><rect x="161.5" y="15.5" width="108.0" height="157.9"/></clipPath>
<g clip-path="url(#c140454145511488)"><g filter="url(#soft)">
<polygon points="177.0,111.22 179.31,109.28 181.63,107.22 183.94,105.04 186.25,102.71 188.57,100.25 190.88,97.67 193.19,94.97 195.51,92.17 197.82,89.3 200.13,86.36 202.45,83.38 204.76,80.35 207.07,77.29 209.39,74.21 211.7,71.11 214.01,67.99 216.33,64.86 218.64,61.71 220.95,58.56 223.27,55.39 225.58,52.22 227.89,49.05 230.21,45.87 232.52,42.68 234.83,39.49 237.15,36.3 239.46,33.1 241.77,29.9 244.09,26.7 246.4,23.5 246.4,73.5 244.09,74.93 241.77,76.36 239.46,77.8 237.15,79.23 234.83,80.67 232.52,82.12 230.21,83.57 227.89,85.02 225.58,86.48 223.27,87.94 220.95,89.41 218.64,90.89 216.33,92.38 214.01,93.88 211.7,95.39 209.39,96.92 207.07,98.47 204.76,100.05 202.45,101.66 200.13,103.31 197.82,105.0 195.51,106.76 193.19,108.6 190.88,110.53 188.57,112.58 186.25,114.75 183.94,117.06 181.63,119.51 179.31,122.09 177.0,124.78" fill="#d6d6d6" fill-opacity="0.5"/>
<line x1="190" y1="36.7" x2="214" y2="36.7" stroke="#e6c25a" stroke-width="1" stroke-opacity="0.65"/>
<line x1="202" y1="28.8" x2="202" y2="45.5" stroke="#e6c25a" stroke-width="1" stroke-opacity="0.65"/>
<circle cx="202" cy="36.7" r="4" fill="#e6c25a" fill-opacity="0.65"/>
<line x1="211" y1="46.5" x2="222" y2="46.5" stroke="#9290c6" stroke-width="1" stroke-opacity="0.65"/>
<circle cx="215.9" cy="46.5" r="4" fill="#9290c6" fill-opacity="0.65"/>
<line x1="208.7" y1="58.8" x2="234.2" y2="58.8" stroke="#cadfc0" stroke-width="1" stroke-opacity="0.65"/>
<line x1="213.5" y1="50" x2="213.5" y2="66" stroke="#cadfc0" stroke-width="1" stroke-opacity="0.65"/>
<circle cx="213.5" cy="58.8" r="4" fill="#cadfc0" fill-opacity="0.65"/>
<line x1="219.9" y1="52" x2="219.9" y2="68" stroke="#a6cb99" stroke-width="1" stroke-opacity="0.65"/>
<circle cx="219.9" cy="58" r="4" fill="#a6cb99" fill-opacity="0.65"/>
<line x1="226.2" y1="48.5" x2="226.2" y2="66" stroke="#cadfc0" stroke-width="1" stroke-opacity="0.65"/>
<circle cx="226.2" cy="56.4" r="4" fill="#cadfc0" fill-opacity="0.65"/>
<circle cx="223.9" cy="62.7" r="4" fill="#cadfc0" fill-opacity="0.65"/>
<line x1="217" y1="53" x2="217" y2="70" stroke="#cadfc0" stroke-width="1" stroke-opacity="0.65"/>
<circle cx="217" cy="62.7" r="4" fill="#cadfc0" fill-opacity="0.65"/>
<line x1="220" y1="59" x2="238" y2="59" stroke="#cadfc0" stroke-width="1" stroke-opacity="0.65"/>
<circle cx="230" cy="59" r="4" fill="#cadfc0" fill-opacity="0.65"/>
<line x1="178.5" y1="65.9" x2="192.8" y2="65.9" stroke="#e6c25a" stroke-width="1" stroke-opacity="0.65"/>
<line x1="185.7" y1="54.8" x2="185.7" y2="78.6" stroke="#e6c25a" stroke-width="1" stroke-opacity="0.65"/>
<circle cx="185.7" cy="65.9" r="4" fill="#e6c25a" fill-opacity="0.65"/>
<line x1="197.6" y1="67.5" x2="210.3" y2="67.5" stroke="#cdcbe6" stroke-width="1" stroke-opacity="0.65"/>
<circle cx="203.2" cy="67.5" r="4" fill="#cdcbe6" fill-opacity="0.65"/>
<line x1="215" y1="76.3" x2="232" y2="76.3" stroke="#cadfc0" stroke-width="1" stroke-opacity="0.65"/>
<line x1="222.3" y1="62.7" x2="222.3" y2="90" stroke="#cadfc0" stroke-width="1" stroke-opacity="0.65"/>
<circle cx="222.3" cy="76.3" r="4" fill="#cadfc0" fill-opacity="0.65"/>
<line x1="226.7" y1="78.6" x2="265" y2="78.6" stroke="#9290c6" stroke-width="1" stroke-opacity="0.65"/>
<line x1="246.4" y1="73" x2="246.4" y2="84" stroke="#9290c6" stroke-width="1" stroke-opacity="0.65"/>
<circle cx="246.4" cy="78.6" r="4" fill="#9290c6" fill-opacity="0.65"/>
<line x1="171.3" y1="85" x2="182.5" y2="85" stroke="#a9cbe0" stroke-width="1" stroke-opacity="0.65"/>
<line x1="176.9" y1="70" x2="176.9" y2="100" stroke="#a9cbe0" stroke-width="1" stroke-opacity="0.65"/>
<circle cx="176.9" cy="85" r="4" fill="#a9cbe0" fill-opacity="0.65"/>
<line x1="172.5" y1="98.9" x2="187.3" y2="98.9" stroke="#6aa3c8" stroke-width="1" stroke-opacity="0.65"/>
<line x1="180.4" y1="93" x2="180.4" y2="105" stroke="#6aa3c8" stroke-width="1" stroke-opacity="0.65"/>
<circle cx="180.4" cy="98.9" r="4" fill="#6aa3c8" fill-opacity="0.65"/>
<circle cx="186.3" cy="98.9" r="4" fill="#a9cbe0" fill-opacity="0.65"/>
<circle cx="198.1" cy="101.8" r="4" fill="#e6c25a" fill-opacity="0.65"/>
<line x1="167.6" y1="107.7" x2="187.3" y2="107.7" stroke="#e6c25a" stroke-width="1" stroke-opacity="0.65"/>
<circle cx="176.5" cy="107.7" r="4" fill="#e6c25a" fill-opacity="0.65"/>
<circle cx="182.4" cy="108.7" r="4" fill="#a9cbe0" fill-opacity="0.65"/>
<line x1="182.4" y1="111.7" x2="209" y2="111.7" stroke="#e6c25a" stroke-width="1" stroke-opacity="0.65"/>
<circle cx="191.6" cy="111.7" r="4" fill="#e6c25a" fill-opacity="0.65"/>
<circle cx="204.6" cy="117.2" r="4" fill="#e6c25a" fill-opacity="0.65"/>
<line x1="167.6" y1="126" x2="200.1" y2="126" stroke="#6aa3c8" stroke-width="1" stroke-opacity="0.65"/>
<circle cx="181.8" cy="126" r="4" fill="#6aa3c8" fill-opacity="0.65"/>
<line x1="187.3" y1="118" x2="187.3" y2="143" stroke="#a9cbe0" stroke-width="1" stroke-opacity="0.65"/>
<circle cx="187.3" cy="129.4" r="4" fill="#a9cbe0" fill-opacity="0.65"/>
<circle cx="196.2" cy="128.4" r="4" fill="#6aa3c8" fill-opacity="0.65"/>
<line x1="168" y1="138.3" x2="183" y2="138.3" stroke="#cdcbe6" stroke-width="1" stroke-opacity="0.65"/>
<circle cx="175.9" cy="138.3" r="4" fill="#cdcbe6" fill-opacity="0.65"/>
<line x1="184.9" y1="130" x2="184.9" y2="148" stroke="#6aa3c8" stroke-width="1" stroke-opacity="0.65"/>
<circle cx="184.9" cy="138.3" r="4" fill="#6aa3c8" fill-opacity="0.65"/>
<line x1="186.3" y1="142" x2="186.3" y2="163" stroke="#eedda0" stroke-width="1" stroke-opacity="0.65"/>
<circle cx="186.3" cy="150.7" r="4" fill="#eedda0" fill-opacity="0.65"/>
<line x1="177" y1="118" x2="246.4" y2="48.5" stroke="#a0a0a0" stroke-width="1"/>
</g></g>
<rect x="161.5" y="15.5" width="108.0" height="158.0" fill="none" stroke="#8f8f8f" stroke-width="1"/>
<line x1="175.5" y1="173.4" x2="175.5" y2="175.4" stroke="#555" stroke-width="0.8"/>
<text x="175.5" y="187.5" text-anchor="middle" font-size="12" fill="#4a4a4a">0.6</text>
<line x1="207.4" y1="173.4" x2="207.4" y2="175.4" stroke="#555" stroke-width="0.8"/>
<text x="207.4" y="187.5" text-anchor="middle" font-size="12" fill="#4a4a4a">0.8</text>
<line x1="239.5" y1="173.4" x2="239.5" y2="175.4" stroke="#555" stroke-width="0.8"/>
<text x="239.5" y="187.5" text-anchor="middle" font-size="12" fill="#4a4a4a">1.0</text>
<line x1="159.5" y1="22.9" x2="161.5" y2="22.9" stroke="#555" stroke-width="0.8"/>
<text x="158.7" y="27.2" text-anchor="end" font-size="12" fill="#4a4a4a">1</text>
<line x1="159.5" y1="50.7" x2="161.5" y2="50.7" stroke="#555" stroke-width="0.8"/>
<text x="158.7" y="55.0" text-anchor="end" font-size="12" fill="#4a4a4a">0</text>
<line x1="159.5" y1="78.7" x2="161.5" y2="78.7" stroke="#555" stroke-width="0.8"/>
<text x="158.7" y="83.0" text-anchor="end" font-size="12" fill="#4a4a4a">-1</text>
<line x1="159.5" y1="106.8" x2="161.5" y2="106.8" stroke="#555" stroke-width="0.8"/>
<text x="158.7" y="111.1" text-anchor="end" font-size="12" fill="#4a4a4a">-2</text>
<line x1="159.5" y1="134.8" x2="161.5" y2="134.8" stroke="#555" stroke-width="0.8"/>
<text x="158.7" y="139.10000000000002" text-anchor="end" font-size="12" fill="#4a4a4a">-3</text>
<line x1="159.5" y1="162.6" x2="161.5" y2="162.6" stroke="#555" stroke-width="0.8"/>
<text x="158.7" y="166.9" text-anchor="end" font-size="12" fill="#4a4a4a">4</text>
<text x="163.7" y="25.8" font-size="12" fill="#111">R<tspan font-size="6.4" dy="-4.9" dx="0.3">2</tspan><tspan dy="4.9" dx="0.2">=</tspan><tspan dx="0.3">0.39</tspan></text>
<text x="246.8" y="168.70000000000002" font-size="12" fill="#111">p<tspan font-size="11.5" dy="0.3" dx="3.6">**</tspan></text>
</g>
<g>
<rect x="286.5" y="15.5" width="107.89999999999998" height="157.9" fill="#fff"/>
<line x1="302.6" y1="15.5" x2="302.6" y2="173.4" stroke="#f4f4f4" stroke-width="0.8"/>
<line x1="326.5" y1="15.5" x2="326.5" y2="173.4" stroke="#f4f4f4" stroke-width="0.8"/>
<line x1="350.5" y1="15.5" x2="350.5" y2="173.4" stroke="#f4f4f4" stroke-width="0.8"/>
<line x1="374.4" y1="15.5" x2="374.4" y2="173.4" stroke="#f4f4f4" stroke-width="0.8"/>
<line x1="286.5" y1="42.75" x2="394.4" y2="42.75" stroke="#f4f4f4" stroke-width="0.8"/>
<line x1="286.5" y1="92.44999999999999" x2="394.4" y2="92.44999999999999" stroke="#f4f4f4" stroke-width="0.8"/>
<line x1="286.5" y1="142.15" x2="394.4" y2="142.15" stroke="#f4f4f4" stroke-width="0.8"/>
<line x1="290.6" y1="15.5" x2="290.6" y2="173.4" stroke="#ececec" stroke-width="1"/>
<line x1="314.5" y1="15.5" x2="314.5" y2="173.4" stroke="#ececec" stroke-width="1"/>
<line x1="338.5" y1="15.5" x2="338.5" y2="173.4" stroke="#ececec" stroke-width="1"/>
<line x1="362.4" y1="15.5" x2="362.4" y2="173.4" stroke="#ececec" stroke-width="1"/>
<line x1="386.3" y1="15.5" x2="386.3" y2="173.4" stroke="#ececec" stroke-width="1"/>
<line x1="286.5" y1="17.9" x2="394.4" y2="17.9" stroke="#ececec" stroke-width="1"/>
<line x1="286.5" y1="67.6" x2="394.4" y2="67.6" stroke="#ececec" stroke-width="1"/>
<line x1="286.5" y1="117.3" x2="394.4" y2="117.3" stroke="#ececec" stroke-width="1"/>
<line x1="286.5" y1="167.0" x2="394.4" y2="167.0" stroke="#ececec" stroke-width="1"/>
<clipPath id="c140454145523200"><rect x="286.5" y="15.5" width="107.89999999999998" height="157.9"/></clipPath>
<g clip-path="url(#c140454145523200)"><g filter="url(#soft)">
<polygon points="294.6,119.55 297.74,116.92 300.88,114.24 304.02,111.49 307.16,108.66 310.3,105.77 313.44,102.8 316.58,99.75 319.72,96.64 322.86,93.46 326.0,90.21 329.14,86.92 332.28,83.58 335.42,80.19 338.56,76.77 341.7,73.32 344.84,69.84 347.98,66.33 351.12,62.81 354.26,59.27 357.4,55.71 360.54,52.14 363.68,48.56 366.82,44.96 369.96,41.36 373.1,37.75 376.24,34.13 379.38,30.51 382.52,26.88 385.66,23.24 388.8,19.6 388.8,61.6 385.66,63.81 382.52,66.03 379.38,68.25 376.24,70.48 373.1,72.72 369.96,74.96 366.82,77.21 363.68,79.47 360.54,81.74 357.4,84.02 354.26,86.32 351.12,88.63 347.98,90.96 344.84,93.31 341.7,95.68 338.56,98.08 335.42,100.51 332.28,102.98 329.14,105.49 326.0,108.05 322.86,110.66 319.72,113.34 316.58,116.08 313.44,118.88 310.3,121.77 307.16,124.72 304.02,127.75 300.88,130.86 297.74,134.02 294.6,137.25" fill="#d6d6d6" fill-opacity="0.5"/>
<line x1="290.6" y1="104.8" x2="290.6" y2="161" stroke="#a9cbe0" stroke-width="1" stroke-opacity="0.65"/>
<circle cx="290.6" cy="116.8" r="4" fill="#6aa3c8" fill-opacity="0.65"/>
<circle cx="290.6" cy="119" r="4" fill="#6aa3c8" fill-opacity="0.65"/>
<circle cx="290.6" cy="122.5" r="4" fill="#9290c6" fill-opacity="0.65"/>
<circle cx="290.6" cy="130.1" r="4" fill="#cadfc0" fill-opacity="0.65"/>
<circle cx="290.6" cy="134.4" r="4" fill="#cadfc0" fill-opacity="0.65"/>
<circle cx="290.6" cy="138" r="4" fill="#cadfc0" fill-opacity="0.65"/>
<circle cx="290.6" cy="142.9" r="4" fill="#a9cbe0" fill-opacity="0.65"/>
<circle cx="290.6" cy="146" r="4" fill="#6aa3c8" fill-opacity="0.65"/>
<circle cx="290.6" cy="149.4" r="4" fill="#6aa3c8" fill-opacity="0.65"/>
<circle cx="290.6" cy="152.2" r="4" fill="#6aa3c8" fill-opacity="0.65"/>
<line x1="350.3" y1="48" x2="350.3" y2="62" stroke="#e6c25a" stroke-width="1" stroke-opacity="0.65"/>
<circle cx="350.3" cy="54.4" r="4" fill="#e6c25a" fill-opacity="0.65"/>
<line x1="339" y1="59.3" x2="353.7" y2="59.3" stroke="#e6c25a" stroke-width="1" stroke-opacity="0.65"/>
<circle cx="346.2" cy="59.3" r="4" fill="#e6c25a" fill-opacity="0.65"/>
<line x1="355.7" y1="58" x2="355.7" y2="72" stroke="#e6c25a" stroke-width="1" stroke-opacity="0.65"/>
<circle cx="355.7" cy="65.2" r="4" fill="#e6c25a" fill-opacity="0.65"/>
<circle cx="359.5" cy="65.2" r="4" fill="#e6c25a" fill-opacity="0.65"/>
<line x1="355" y1="65.2" x2="370" y2="65.2" stroke="#e6c25a" stroke-width="1" stroke-opacity="0.65"/>
<circle cx="363.5" cy="65.2" r="4" fill="#e6c25a" fill-opacity="0.65"/>
<circle cx="388.8" cy="58.3" r="4" fill="#e6c25a" fill-opacity="0.65"/>
<circle cx="349.7" cy="80" r="4" fill="#eedda0" fill-opacity="0.65"/>
<line x1="291.2" y1="77" x2="291.2" y2="90" stroke="#a9cbe0" stroke-width="1" stroke-opacity="0.65"/>
<circle cx="291.2" cy="83" r="4" fill="#a9cbe0" fill-opacity="0.65"/>
<line x1="297.5" y1="98.9" x2="348.8" y2="98.9" stroke="#cadfc0" stroke-width="1" stroke-opacity="0.65"/>
<circle cx="323.1" cy="98.9" r="4" fill="#cadfc0" fill-opacity="0.65"/>
<line x1="346.8" y1="116.6" x2="346.8" y2="130.4" stroke="#cadfc0" stroke-width="1" stroke-opacity="0.65"/>
<circle cx="346.8" cy="123.9" r="4" fill="#cadfc0" fill-opacity="0.65"/>
<line x1="294.6" y1="128.4" x2="388.8" y2="40.6" stroke="#a0a0a0" stroke-width="1"/>
</g></g>
<rect x="286.5" y="15.5" width="108.0" height="158.0" fill="none" stroke="#8f8f8f" stroke-width="1"/>
<line x1="290.6" y1="173.4" x2="290.6" y2="175.4" stroke="#555" stroke-width="0.8"/>
<text x="290.6" y="187.5" text-anchor="middle" font-size="12" fill="#4a4a4a">0</text>
<line x1="314.5" y1="173.4" x2="314.5" y2="175.4" stroke="#555" stroke-width="0.8"/>
<text x="314.5" y="187.5" text-anchor="middle" font-size="12" fill="#4a4a4a">0.25</text>
<line x1="338.5" y1="173.4" x2="338.5" y2="175.4" stroke="#555" stroke-width="0.8"/>
<text x="338.5" y="187.5" text-anchor="middle" font-size="12" fill="#4a4a4a">0.5</text>
<line x1="362.4" y1="173.4" x2="362.4" y2="175.4" stroke="#555" stroke-width="0.8"/>
<text x="362.4" y="187.5" text-anchor="middle" font-size="12" fill="#4a4a4a">0.75</text>
<line x1="386.3" y1="173.4" x2="386.3" y2="175.4" stroke="#555" stroke-width="0.8"/>
<text x="386.3" y="187.5" text-anchor="middle" font-size="12" fill="#4a4a4a">1</text>
<line x1="284.5" y1="17.9" x2="286.5" y2="17.9" stroke="#555" stroke-width="0.8"/>
<text x="283.7" y="22.2" text-anchor="end" font-size="12" fill="#4a4a4a">4</text>
<line x1="284.5" y1="67.6" x2="286.5" y2="67.6" stroke="#555" stroke-width="0.8"/>
<text x="283.7" y="71.89999999999999" text-anchor="end" font-size="12" fill="#4a4a4a">0</text>
<line x1="284.5" y1="117.3" x2="286.5" y2="117.3" stroke="#555" stroke-width="0.8"/>
<text x="283.7" y="121.6" text-anchor="end" font-size="12" fill="#4a4a4a">-4</text>
<line x1="284.5" y1="167.0" x2="286.5" y2="167.0" stroke="#555" stroke-width="0.8"/>
<text x="283.7" y="171.3" text-anchor="end" font-size="12" fill="#4a4a4a">-8</text>
<text x="288.7" y="25.8" font-size="12" fill="#111">R<tspan font-size="6.4" dy="-4.9" dx="0.3">2</tspan><tspan dy="4.9" dx="0.2">=</tspan><tspan dx="0.3">0.74</tspan></text>
<text x="374.7" y="168.70000000000002" font-size="12" fill="#111">p<tspan font-size="11.5" dy="-3.2" dx="0.4">**</tspan></text>
</g>
<g>
<rect x="421.6" y="15.5" width="104.39999999999998" height="157.9" fill="#fff"/>
<line x1="438.7" y1="15.5" x2="438.7" y2="173.4" stroke="#f4f4f4" stroke-width="0.8"/>
<line x1="465.8" y1="15.5" x2="465.8" y2="173.4" stroke="#f4f4f4" stroke-width="0.8"/>
<line x1="492.9" y1="15.5" x2="492.9" y2="173.4" stroke="#f4f4f4" stroke-width="0.8"/>
<line x1="519.9" y1="15.5" x2="519.9" y2="173.4" stroke="#f4f4f4" stroke-width="0.8"/>
<line x1="421.6" y1="28.950000000000003" x2="526" y2="28.950000000000003" stroke="#f4f4f4" stroke-width="0.8"/>
<line x1="421.6" y1="59.45" x2="526" y2="59.45" stroke="#f4f4f4" stroke-width="0.8"/>
<line x1="421.6" y1="89.9" x2="526" y2="89.9" stroke="#f4f4f4" stroke-width="0.8"/>
<line x1="421.6" y1="120.35" x2="526" y2="120.35" stroke="#f4f4f4" stroke-width="0.8"/>
<line x1="421.6" y1="150.85" x2="526" y2="150.85" stroke="#f4f4f4" stroke-width="0.8"/>
<line x1="425.2" y1="15.5" x2="425.2" y2="173.4" stroke="#ececec" stroke-width="1"/>
<line x1="452.3" y1="15.5" x2="452.3" y2="173.4" stroke="#ececec" stroke-width="1"/>
<line x1="479.4" y1="15.5" x2="479.4" y2="173.4" stroke="#ececec" stroke-width="1"/>
<line x1="506.4" y1="15.5" x2="506.4" y2="173.4" stroke="#ececec" stroke-width="1"/>
<line x1="421.6" y1="44.2" x2="526" y2="44.2" stroke="#ececec" stroke-width="1"/>
<line x1="421.6" y1="74.7" x2="526" y2="74.7" stroke="#ececec" stroke-width="1"/>
<line x1="421.6" y1="105.1" x2="526" y2="105.1" stroke="#ececec" stroke-width="1"/>
<line x1="421.6" y1="135.6" x2="526" y2="135.6" stroke="#ececec" stroke-width="1"/>
<line x1="421.6" y1="166.1" x2="526" y2="166.1" stroke="#ececec" stroke-width="1"/>
<clipPath id="c140454145560960"><rect x="421.6" y="15.5" width="104.39999999999998" height="157.9"/></clipPath>
<g clip-path="url(#c140454145560960)"><g filter="url(#soft)">
<polygon points="427.7,131.93 430.6,128.63 433.49,125.3 436.39,121.94 439.29,118.55 442.18,115.12 445.08,111.67 447.98,108.19 450.87,104.68 453.77,101.14 456.67,97.58 459.56,93.99 462.46,90.37 465.36,86.74 468.25,83.08 471.15,79.4 474.05,75.71 476.94,72.0 479.84,68.28 482.74,64.54 485.63,60.79 488.53,57.03 491.43,53.25 494.32,49.47 497.22,45.68 500.12,41.88 503.01,38.08 505.91,34.27 508.81,30.45 511.7,26.63 514.6,22.8 514.6,52.8 511.7,55.8 508.81,58.8 505.91,61.81 503.01,64.83 500.12,67.85 497.22,70.88 494.32,73.92 491.43,76.96 488.53,80.01 485.63,83.08 482.74,86.16 479.84,89.24 476.94,92.35 474.05,95.46 471.15,98.6 468.25,101.75 465.36,104.92 462.46,108.11 459.56,111.32 456.67,114.55 453.77,117.82 450.87,121.1 447.98,124.42 445.08,127.77 442.18,131.14 439.29,134.55 436.39,137.98 433.49,141.45 430.6,144.94 427.7,148.47" fill="#d6d6d6" fill-opacity="0.5"/>
<circle cx="425.2" cy="93.3" r="4" fill="#a9cbe0" fill-opacity="0.65"/>
<circle cx="425.2" cy="106" r="4" fill="#cadfc0" fill-opacity="0.65"/>
<circle cx="425.2" cy="122.4" r="4" fill="#a9cbe0" fill-opacity="0.65"/>
<circle cx="425.2" cy="127" r="4" fill="#a9cbe0" fill-opacity="0.65"/>
<circle cx="425.2" cy="130.1" r="4" fill="#cadfc0" fill-opacity="0.65"/>
<circle cx="425.2" cy="134.5" r="4" fill="#cadfc0" fill-opacity="0.65"/>
<circle cx="425.2" cy="138.6" r="4" fill="#9290c6" fill-opacity="0.65"/>
<circle cx="425.2" cy="145.7" r="4" fill="#cadfc0" fill-opacity="0.65"/>
<circle cx="425.2" cy="149.3" r="4" fill="#cadfc0" fill-opacity="0.65"/>
<circle cx="425.2" cy="152.8" r="4" fill="#a9cbe0" fill-opacity="0.65"/>
<circle cx="425.2" cy="155" r="4" fill="#6fa6b0" fill-opacity="0.65"/>
<circle cx="425.2" cy="157" r="4" fill="#6aa3c8" fill-opacity="0.65"/>
<circle cx="425.2" cy="161.3" r="4" fill="#6aa3c8" fill-opacity="0.65"/>
<line x1="488" y1="41.9" x2="488" y2="51.1" stroke="#e6c25a" stroke-width="1" stroke-opacity="0.65"/>
<circle cx="488" cy="46" r="4" fill="#e6c25a" fill-opacity="0.65"/>
<line x1="485" y1="53.5" x2="497" y2="53.5" stroke="#e6c25a" stroke-width="1" stroke-opacity="0.65"/>
<circle cx="491" cy="53.5" r="4" fill="#e6c25a" fill-opacity="0.65"/>
<circle cx="501.3" cy="49" r="4" fill="#e6c25a" fill-opacity="0.65"/>
<circle cx="500.3" cy="54.2" r="4" fill="#e6c25a" fill-opacity="0.65"/>
<line x1="509.5" y1="48" x2="521.7" y2="48" stroke="#e6c25a" stroke-width="1" stroke-opacity="0.65"/>
<circle cx="514.6" cy="48" r="4" fill="#e6c25a" fill-opacity="0.65"/>
<line x1="499.2" y1="61.3" x2="499.2" y2="70.5" stroke="#e6c25a" stroke-width="1" stroke-opacity="0.65"/>
<circle cx="499.2" cy="65.4" r="4" fill="#e6c25a" fill-opacity="0.65"/>
<circle cx="499.6" cy="74.6" r="4" fill="#eedda0" fill-opacity="0.65"/>
<line x1="427.7" y1="140.2" x2="514.6" y2="37.8" stroke="#a0a0a0" stroke-width="1"/>
</g></g>
<rect x="421.5" y="15.5" width="105.0" height="158.0" fill="none" stroke="#8f8f8f" stroke-width="1"/>
<line x1="425.2" y1="173.4" x2="425.2" y2="175.4" stroke="#555" stroke-width="0.8"/>
<text x="425.2" y="187.5" text-anchor="middle" font-size="12" fill="#4a4a4a">0</text>
<line x1="452.3" y1="173.4" x2="452.3" y2="175.4" stroke="#555" stroke-width="0.8"/>
<text x="452.3" y="187.5" text-anchor="middle" font-size="12" fill="#4a4a4a">0.25</text>
<line x1="479.4" y1="173.4" x2="479.4" y2="175.4" stroke="#555" stroke-width="0.8"/>
<text x="479.4" y="187.5" text-anchor="middle" font-size="12" fill="#4a4a4a">0.5</text>
<line x1="506.4" y1="173.4" x2="506.4" y2="175.4" stroke="#555" stroke-width="0.8"/>
<text x="506.4" y="187.5" text-anchor="middle" font-size="12" fill="#4a4a4a">0.75</text>
<line x1="419.6" y1="44.2" x2="421.6" y2="44.2" stroke="#555" stroke-width="0.8"/>
<text x="418.8" y="48.5" text-anchor="end" font-size="12" fill="#4a4a4a">2.5</text>
<line x1="419.6" y1="74.7" x2="421.6" y2="74.7" stroke="#555" stroke-width="0.8"/>
<text x="418.8" y="79.0" text-anchor="end" font-size="12" fill="#4a4a4a">0.0</text>
<line x1="419.6" y1="105.1" x2="421.6" y2="105.1" stroke="#555" stroke-width="0.8"/>
<text x="418.8" y="109.39999999999999" text-anchor="end" font-size="12" fill="#4a4a4a">-2.5</text>
<line x1="419.6" y1="135.6" x2="421.6" y2="135.6" stroke="#555" stroke-width="0.8"/>
<text x="418.8" y="139.9" text-anchor="end" font-size="12" fill="#4a4a4a">-5.0</text>
<line x1="419.6" y1="166.1" x2="421.6" y2="166.1" stroke="#555" stroke-width="0.8"/>
<text x="418.8" y="170.4" text-anchor="end" font-size="12" fill="#4a4a4a">-7.5</text>
<text x="423.8" y="25.8" font-size="12" fill="#111">R<tspan font-size="6.4" dy="-4.9" dx="0.3">2</tspan><tspan dy="4.9" dx="0.2">=</tspan><tspan dx="0.3">0.85</tspan></text>
<text x="505.79999999999995" y="168.70000000000002" font-size="12" fill="#111">p<tspan font-size="11.5" dy="-3.2" dx="0.4">**</tspan></text>
</g>
<g>
<rect x="544.4" y="15.5" width="108.30000000000007" height="157.9" fill="#fff"/>
<line x1="562" y1="15.5" x2="562" y2="173.4" stroke="#f4f4f4" stroke-width="0.8"/>
<line x1="588" y1="15.5" x2="588" y2="173.4" stroke="#f4f4f4" stroke-width="0.8"/>
<line x1="613.9" y1="15.5" x2="613.9" y2="173.4" stroke="#f4f4f4" stroke-width="0.8"/>
<line x1="639.8" y1="15.5" x2="639.8" y2="173.4" stroke="#f4f4f4" stroke-width="0.8"/>
<line x1="544.4" y1="15.75" x2="652.7" y2="15.75" stroke="#f4f4f4" stroke-width="0.8"/>
<line x1="544.4" y1="61.25" x2="652.7" y2="61.25" stroke="#f4f4f4" stroke-width="0.8"/>
<line x1="544.4" y1="106.5" x2="652.7" y2="106.5" stroke="#f4f4f4" stroke-width="0.8"/>
<line x1="544.4" y1="151.75" x2="652.7" y2="151.75" stroke="#f4f4f4" stroke-width="0.8"/>
<line x1="549.1" y1="15.5" x2="549.1" y2="173.4" stroke="#ececec" stroke-width="1"/>
<line x1="575" y1="15.5" x2="575" y2="173.4" stroke="#ececec" stroke-width="1"/>
<line x1="600.9" y1="15.5" x2="600.9" y2="173.4" stroke="#ececec" stroke-width="1"/>
<line x1="626.8" y1="15.5" x2="626.8" y2="173.4" stroke="#ececec" stroke-width="1"/>
<line x1="544.4" y1="38.5" x2="652.7" y2="38.5" stroke="#ececec" stroke-width="1"/>
<line x1="544.4" y1="84" x2="652.7" y2="84" stroke="#ececec" stroke-width="1"/>
<line x1="544.4" y1="129" x2="652.7" y2="129" stroke="#ececec" stroke-width="1"/>
<clipPath id="c140454145565696"><rect x="544.4" y="15.5" width="108.30000000000007" height="157.9"/></clipPath>
<g clip-path="url(#c140454145565696)"><g filter="url(#soft)">
<polygon points="551.3,110.73 554.51,108.08 557.73,105.42 560.94,102.74 564.15,100.05 567.37,97.33 570.58,94.59 573.79,91.83 577.01,89.06 580.22,86.27 583.43,83.45 586.65,80.63 589.86,77.78 593.07,74.92 596.29,72.04 599.5,69.15 602.71,66.24 605.93,63.33 609.14,60.39 612.35,57.45 615.57,54.5 618.78,51.53 621.99,48.56 625.21,45.58 628.42,42.59 631.63,39.59 634.85,36.58 638.06,33.57 641.27,30.55 644.49,27.53 647.7,24.5 647.7,52.5 644.49,54.9 641.27,57.3 638.06,59.71 634.85,62.12 631.63,64.54 628.42,66.97 625.21,69.41 621.99,71.85 618.78,74.31 615.57,76.77 612.35,79.24 609.14,81.73 605.93,84.22 602.71,86.73 599.5,89.25 596.29,91.79 593.07,94.34 589.86,96.9 586.65,99.48 583.43,102.08 580.22,104.69 577.01,107.33 573.79,109.98 570.58,112.65 567.37,115.34 564.15,118.05 560.94,120.78 557.73,123.52 554.51,126.29 551.3,129.07" fill="#d6d6d6" fill-opacity="0.5"/>
<circle cx="548.9" cy="94.5" r="4" fill="#a9cbe0" fill-opacity="0.65"/>
<circle cx="548.9" cy="98.2" r="4" fill="#9290c6" fill-opacity="0.65"/>
<circle cx="548.9" cy="107.3" r="4" fill="#cadfc0" fill-opacity="0.65"/>
<circle cx="548.9" cy="112" r="4" fill="#a9cbe0" fill-opacity="0.65"/>
<circle cx="548.9" cy="117.2" r="4" fill="#6aa3c8" fill-opacity="0.65"/>
<circle cx="548.9" cy="120" r="4" fill="#a9cbe0" fill-opacity="0.65"/>
<circle cx="548.9" cy="124.2" r="4" fill="#cadfc0" fill-opacity="0.65"/>
<circle cx="548.9" cy="127" r="4" fill="#cadfc0" fill-opacity="0.65"/>
<circle cx="548.9" cy="131" r="4" fill="#cadfc0" fill-opacity="0.65"/>
<circle cx="548.9" cy="134" r="4" fill="#6aa3c8" fill-opacity="0.65"/>
<circle cx="548.9" cy="157.5" r="4" fill="#a9cbe0" fill-opacity="0.65"/>
<line x1="617.6" y1="31.3" x2="617.6" y2="47" stroke="#e6c25a" stroke-width="1" stroke-opacity="0.65"/>
<circle cx="617.6" cy="39.7" r="4" fill="#e6c25a" fill-opacity="0.65"/>
<line x1="617" y1="36.1" x2="633" y2="36.1" stroke="#e6c25a" stroke-width="1" stroke-opacity="0.65"/>
<line x1="625.3" y1="26.5" x2="625.3" y2="45.8" stroke="#e6c25a" stroke-width="1" stroke-opacity="0.65"/>
<circle cx="625.3" cy="36.1" r="4" fill="#e6c25a" fill-opacity="0.65"/>
<line x1="605.5" y1="51.8" x2="621.2" y2="51.8" stroke="#e6c25a" stroke-width="1" stroke-opacity="0.65"/>
<line x1="616.4" y1="45.8" x2="616.4" y2="60.2" stroke="#e6c25a" stroke-width="1" stroke-opacity="0.65"/>
<circle cx="616.4" cy="51.8" r="4" fill="#e6c25a" fill-opacity="0.65"/>
<line x1="647.7" y1="35" x2="647.7" y2="51.8" stroke="#e6c25a" stroke-width="1" stroke-opacity="0.65"/>
<circle cx="647.7" cy="43.4" r="4" fill="#e6c25a" fill-opacity="0.65"/>
<line x1="642.4" y1="68.7" x2="642.4" y2="83.1" stroke="#e6c25a" stroke-width="1" stroke-opacity="0.65"/>
<circle cx="642.4" cy="75.9" r="4" fill="#e6c25a" fill-opacity="0.65"/>
<line x1="623.1" y1="86" x2="623.1" y2="100" stroke="#eedda0" stroke-width="1" stroke-opacity="0.65"/>
<circle cx="623.1" cy="93.5" r="4" fill="#eedda0" fill-opacity="0.65"/>
<line x1="551.3" y1="119.9" x2="647.7" y2="38.5" stroke="#a0a0a0" stroke-width="1"/>
</g></g>
<rect x="544.5" y="15.5" width="108.0" height="158.0" fill="none" stroke="#8f8f8f" stroke-width="1"/>
<line x1="549.1" y1="173.4" x2="549.1" y2="175.4" stroke="#555" stroke-width="0.8"/>
<text x="549.1" y="187.5" text-anchor="middle" font-size="12" fill="#4a4a4a">0</text>
<line x1="575" y1="173.4" x2="575" y2="175.4" stroke="#555" stroke-width="0.8"/>
<text x="575" y="187.5" text-anchor="middle" font-size="12" fill="#4a4a4a">0.2</text>
<line x1="600.9" y1="173.4" x2="600.9" y2="175.4" stroke="#555" stroke-width="0.8"/>
<text x="600.9" y="187.5" text-anchor="middle" font-size="12" fill="#4a4a4a">0.4</text>
<line x1="626.8" y1="173.4" x2="626.8" y2="175.4" stroke="#555" stroke-width="0.8"/>
<text x="626.8" y="187.5" text-anchor="middle" font-size="12" fill="#4a4a4a">0.6</text>
<line x1="652.7" y1="173.4" x2="652.7" y2="175.4" stroke="#555" stroke-width="0.8"/>
<text x="652.7" y="187.5" text-anchor="middle" font-size="12" fill="#4a4a4a">0.8</text>
<line x1="542.4" y1="38.5" x2="544.4" y2="38.5" stroke="#555" stroke-width="0.8"/>
<text x="541.6" y="42.8" text-anchor="end" font-size="12" fill="#4a4a4a">5</text>
<line x1="542.4" y1="84" x2="544.4" y2="84" stroke="#555" stroke-width="0.8"/>
<text x="541.6" y="88.3" text-anchor="end" font-size="12" fill="#4a4a4a">0</text>
<line x1="542.4" y1="129" x2="544.4" y2="129" stroke="#555" stroke-width="0.8"/>
<text x="541.6" y="133.3" text-anchor="end" font-size="12" fill="#4a4a4a">-5</text>
<text x="546.6" y="25.8" font-size="12" fill="#111">R<tspan font-size="6.4" dy="-4.9" dx="0.3">2</tspan><tspan dy="4.9" dx="0.2">=</tspan><tspan dx="0.3">0.78</tspan></text>
<text x="633.8" y="168.70000000000002" font-size="12" fill="#111">p<tspan font-size="11.5" dy="-3.2" dx="0.4">**</tspan></text>
</g>
<g>
<rect x="161.7" y="199.5" width="107.40000000000003" height="157.0" fill="#fff"/>
<line x1="179.2" y1="199.5" x2="179.2" y2="356.5" stroke="#f4f4f4" stroke-width="0.8"/>
<line x1="206.4" y1="199.5" x2="206.4" y2="356.5" stroke="#f4f4f4" stroke-width="0.8"/>
<line x1="233.6" y1="199.5" x2="233.6" y2="356.5" stroke="#f4f4f4" stroke-width="0.8"/>
<line x1="260.9" y1="199.5" x2="260.9" y2="356.5" stroke="#f4f4f4" stroke-width="0.8"/>
<line x1="161.7" y1="223.8" x2="269.1" y2="223.8" stroke="#f4f4f4" stroke-width="0.8"/>
<line x1="161.7" y1="250.0" x2="269.1" y2="250.0" stroke="#f4f4f4" stroke-width="0.8"/>
<line x1="161.7" y1="276.20000000000005" x2="269.1" y2="276.20000000000005" stroke="#f4f4f4" stroke-width="0.8"/>
<line x1="161.7" y1="302.4" x2="269.1" y2="302.4" stroke="#f4f4f4" stroke-width="0.8"/>
<line x1="161.7" y1="328.6" x2="269.1" y2="328.6" stroke="#f4f4f4" stroke-width="0.8"/>
<line x1="161.7" y1="354.8" x2="269.1" y2="354.8" stroke="#f4f4f4" stroke-width="0.8"/>
<line x1="165.6" y1="199.5" x2="165.6" y2="356.5" stroke="#ececec" stroke-width="1"/>
<line x1="192.8" y1="199.5" x2="192.8" y2="356.5" stroke="#ececec" stroke-width="1"/>
<line x1="220" y1="199.5" x2="220" y2="356.5" stroke="#ececec" stroke-width="1"/>
<line x1="247.3" y1="199.5" x2="247.3" y2="356.5" stroke="#ececec" stroke-width="1"/>
<line x1="161.7" y1="210.7" x2="269.1" y2="210.7" stroke="#ececec" stroke-width="1"/>
<line x1="161.7" y1="236.9" x2="269.1" y2="236.9" stroke="#ececec" stroke-width="1"/>
<line x1="161.7" y1="263.1" x2="269.1" y2="263.1" stroke="#ececec" stroke-width="1"/>
<line x1="161.7" y1="289.3" x2="269.1" y2="289.3" stroke="#ececec" stroke-width="1"/>
<line x1="161.7" y1="315.5" x2="269.1" y2="315.5" stroke="#ececec" stroke-width="1"/>
<line x1="161.7" y1="341.7" x2="269.1" y2="341.7" stroke="#ececec" stroke-width="1"/>
<clipPath id="c140454145569792"><rect x="161.7" y="199.5" width="107.40000000000003" height="157.0"/></clipPath>
<g clip-path="url(#c140454145569792)"><g filter="url(#soft)">
<polygon points="165.6,260.6 168.86,260.31 172.13,260.01 175.39,259.71 178.65,259.42 181.92,259.12 185.18,258.81 188.44,258.5 191.71,258.19 194.97,257.88 198.23,257.56 201.5,257.23 204.76,256.9 208.02,256.56 211.29,256.2 214.55,255.83 217.81,255.43 221.08,255.01 224.34,254.55 227.6,254.04 230.87,253.44 234.13,252.72 237.39,251.81 240.66,250.59 243.92,248.95 247.18,246.79 250.45,244.14 253.71,241.11 256.97,237.81 260.24,234.35 263.5,230.78 263.5,254.37 260.24,254.94 256.97,255.61 253.71,256.45 250.45,257.55 247.18,259.03 243.92,261.01 240.66,263.5 237.39,266.43 234.13,269.65 230.87,273.06 227.6,276.6 224.34,280.22 221.08,283.89 217.81,287.61 214.55,291.35 211.29,295.11 208.02,298.89 204.76,302.68 201.5,306.48 198.23,310.29 194.97,314.11 191.71,317.93 188.44,321.75 185.18,325.58 181.92,329.41 178.65,333.24 175.39,337.08 172.13,340.92 168.86,344.76 165.6,348.6" fill="#d6d6d6" fill-opacity="0.5"/>
<line x1="226.7" y1="206.8" x2="226.7" y2="229.5" stroke="#a9cbe0" stroke-width="1" stroke-opacity="0.65"/>
<circle cx="226.7" cy="218.3" r="4" fill="#a9cbe0" fill-opacity="0.65"/>
<line x1="230.3" y1="218.6" x2="230.3" y2="229.5" stroke="#e6c25a" stroke-width="1" stroke-opacity="0.65"/>
<circle cx="230.3" cy="224.2" r="4" fill="#e6c25a" fill-opacity="0.65"/>
<line x1="246.4" y1="205.8" x2="246.4" y2="229.5" stroke="#cadfc0" stroke-width="1" stroke-opacity="0.65"/>
<circle cx="246.4" cy="217.1" r="4" fill="#cadfc0" fill-opacity="0.65"/>
<line x1="248" y1="208" x2="248" y2="232" stroke="#6aa3c8" stroke-width="1" stroke-opacity="0.65"/>
<circle cx="248" cy="220.6" r="4" fill="#6aa3c8" fill-opacity="0.65"/>
<line x1="246.4" y1="219.6" x2="262.2" y2="219.6" stroke="#a6cb99" stroke-width="1" stroke-opacity="0.65"/>
<line x1="252.7" y1="210" x2="252.7" y2="232" stroke="#a6cb99" stroke-width="1" stroke-opacity="0.65"/>
<circle cx="252.7" cy="219.6" r="4" fill="#a6cb99" fill-opacity="0.65"/>
<circle cx="244.5" cy="228.9" r="4" fill="#cadfc0" fill-opacity="0.65"/>
<circle cx="252" cy="235.4" r="4" fill="#cadfc0" fill-opacity="0.65"/>
<line x1="259.2" y1="224.6" x2="259.2" y2="245.3" stroke="#9290c6" stroke-width="1" stroke-opacity="0.65"/>
<circle cx="259.2" cy="234.8" r="4" fill="#9290c6" fill-opacity="0.65"/>
<circle cx="258.2" cy="254.1" r="4" fill="#cdcbe6" fill-opacity="0.65"/>
<line x1="254.3" y1="248.2" x2="254.3" y2="262" stroke="#9290c6" stroke-width="1" stroke-opacity="0.65"/>
<circle cx="254.3" cy="254.5" r="4" fill="#9290c6" fill-opacity="0.65"/>
<circle cx="165.6" cy="266.9" r="4" fill="#e6c25a" fill-opacity="0.65"/>
<line x1="229.1" y1="258" x2="229.1" y2="280" stroke="#6aa3c8" stroke-width="1" stroke-opacity="0.65"/>
<circle cx="229.1" cy="266.9" r="4" fill="#6aa3c8" fill-opacity="0.65"/>
<line x1="218.8" y1="272.8" x2="232.6" y2="272.8" stroke="#e6c25a" stroke-width="1" stroke-opacity="0.65"/>
<line x1="223.8" y1="256" x2="223.8" y2="282" stroke="#e6c25a" stroke-width="1" stroke-opacity="0.65"/>
<circle cx="223.8" cy="272.8" r="4" fill="#e6c25a" fill-opacity="0.65"/>
<circle cx="235.6" cy="272.8" r="4" fill="#a9cbe0" fill-opacity="0.65"/>
<circle cx="223.8" cy="277" r="4" fill="#e6c25a" fill-opacity="0.65"/>
<line x1="230.7" y1="270" x2="230.7" y2="292" stroke="#e6c25a" stroke-width="1" stroke-opacity="0.65"/>
<circle cx="230.7" cy="282.9" r="4" fill="#e6c25a" fill-opacity="0.65"/>
<line x1="234" y1="279.9" x2="258.2" y2="279.9" stroke="#eedda0" stroke-width="1" stroke-opacity="0.65"/>
<circle cx="239.5" cy="279.9" r="4" fill="#eedda0" fill-opacity="0.65"/>
<line x1="225.7" y1="279" x2="225.7" y2="330" stroke="#6aa3c8" stroke-width="1" stroke-opacity="0.65"/>
<circle cx="225.7" cy="291.8" r="4" fill="#6aa3c8" fill-opacity="0.65"/>
<circle cx="225.7" cy="294.7" r="4" fill="#a9cbe0" fill-opacity="0.65"/>
<line x1="234.6" y1="275" x2="234.6" y2="299" stroke="#6aa3c8" stroke-width="1" stroke-opacity="0.65"/>
<circle cx="234.6" cy="288.4" r="4" fill="#6aa3c8" fill-opacity="0.65"/>
<circle cx="250.4" cy="292.7" r="4" fill="#cdcbe6" fill-opacity="0.65"/>
<line x1="229.7" y1="295" x2="229.7" y2="330" stroke="#eedda0" stroke-width="1" stroke-opacity="0.65"/>
<circle cx="229.7" cy="306.5" r="4" fill="#eedda0" fill-opacity="0.65"/>
<line x1="225.1" y1="304.6" x2="225.1" y2="330" stroke="#a9cbe0" stroke-width="1" stroke-opacity="0.65"/>
<circle cx="225.1" cy="317.4" r="4" fill="#a9cbe0" fill-opacity="0.65"/>
<line x1="165.6" y1="304.6" x2="259.2" y2="245.3" stroke="#a0a0a0" stroke-width="1"/>
</g></g>
<rect x="161.5" y="199.5" width="108.0" height="157.0" fill="none" stroke="#8f8f8f" stroke-width="1"/>
<line x1="165.6" y1="356.5" x2="165.6" y2="358.5" stroke="#555" stroke-width="0.8"/>
<text x="165.6" y="371.2" text-anchor="middle" font-size="12" fill="#4a4a4a">0</text>
<line x1="192.8" y1="356.5" x2="192.8" y2="358.5" stroke="#555" stroke-width="0.8"/>
<text x="192.8" y="371.2" text-anchor="middle" font-size="12" fill="#4a4a4a">0.3</text>
<line x1="220" y1="356.5" x2="220" y2="358.5" stroke="#555" stroke-width="0.8"/>
<text x="220" y="371.2" text-anchor="middle" font-size="12" fill="#4a4a4a">0.6</text>
<line x1="247.3" y1="356.5" x2="247.3" y2="358.5" stroke="#555" stroke-width="0.8"/>
<text x="247.3" y="371.2" text-anchor="middle" font-size="12" fill="#4a4a4a">0.9</text>
<line x1="159.7" y1="210.7" x2="161.7" y2="210.7" stroke="#555" stroke-width="0.8"/>
<text x="158.89999999999998" y="215.0" text-anchor="end" font-size="12" fill="#4a4a4a">1</text>
<line x1="159.7" y1="236.9" x2="161.7" y2="236.9" stroke="#555" stroke-width="0.8"/>
<text x="158.89999999999998" y="241.20000000000002" text-anchor="end" font-size="12" fill="#4a4a4a">0</text>
<line x1="159.7" y1="263.1" x2="161.7" y2="263.1" stroke="#555" stroke-width="0.8"/>
<text x="158.89999999999998" y="267.40000000000003" text-anchor="end" font-size="12" fill="#4a4a4a">-1</text>
<line x1="159.7" y1="289.3" x2="161.7" y2="289.3" stroke="#555" stroke-width="0.8"/>
<text x="158.89999999999998" y="293.6" text-anchor="end" font-size="12" fill="#4a4a4a">-2</text>
<line x1="159.7" y1="315.5" x2="161.7" y2="315.5" stroke="#555" stroke-width="0.8"/>
<text x="158.89999999999998" y="319.8" text-anchor="end" font-size="12" fill="#4a4a4a">-3</text>
<line x1="159.7" y1="341.7" x2="161.7" y2="341.7" stroke="#555" stroke-width="0.8"/>
<text x="158.89999999999998" y="346.0" text-anchor="end" font-size="12" fill="#4a4a4a">-4</text>
<text x="163.89999999999998" y="209.8" font-size="12" fill="#111">R<tspan font-size="6.4" dy="-4.9" dx="0.3">2</tspan><tspan dy="4.9" dx="0.2">=</tspan><tspan dx="0.3">0.16</tspan></text>
<text x="248.8" y="351.8" font-size="12" fill="#111">p<tspan font-size="11.5" dy="0.3" dx="3.6">*</tspan></text>
</g>
<g>
<rect x="287.3" y="199.5" width="107.69999999999999" height="157.0" fill="#fff"/>
<line x1="304.2" y1="199.5" x2="304.2" y2="356.5" stroke="#f4f4f4" stroke-width="0.8"/>
<line x1="330.2" y1="199.5" x2="330.2" y2="356.5" stroke="#f4f4f4" stroke-width="0.8"/>
<line x1="356.2" y1="199.5" x2="356.2" y2="356.5" stroke="#f4f4f4" stroke-width="0.8"/>
<line x1="382.2" y1="199.5" x2="382.2" y2="356.5" stroke="#f4f4f4" stroke-width="0.8"/>
<line x1="287.3" y1="210.3" x2="395" y2="210.3" stroke="#f4f4f4" stroke-width="0.8"/>
<line x1="287.3" y1="251.3" x2="395" y2="251.3" stroke="#f4f4f4" stroke-width="0.8"/>
<line x1="287.3" y1="292.3" x2="395" y2="292.3" stroke="#f4f4f4" stroke-width="0.8"/>
<line x1="287.3" y1="333.3" x2="395" y2="333.3" stroke="#f4f4f4" stroke-width="0.8"/>
<line x1="291.2" y1="199.5" x2="291.2" y2="356.5" stroke="#ececec" stroke-width="1"/>
<line x1="317.2" y1="199.5" x2="317.2" y2="356.5" stroke="#ececec" stroke-width="1"/>
<line x1="343.2" y1="199.5" x2="343.2" y2="356.5" stroke="#ececec" stroke-width="1"/>
<line x1="369.2" y1="199.5" x2="369.2" y2="356.5" stroke="#ececec" stroke-width="1"/>
<line x1="287.3" y1="230.8" x2="395" y2="230.8" stroke="#ececec" stroke-width="1"/>
<line x1="287.3" y1="271.8" x2="395" y2="271.8" stroke="#ececec" stroke-width="1"/>
<line x1="287.3" y1="312.8" x2="395" y2="312.8" stroke="#ececec" stroke-width="1"/>
<line x1="287.3" y1="353.8" x2="395" y2="353.8" stroke="#ececec" stroke-width="1"/>
<clipPath id="c140454145590656"><rect x="287.3" y="199.5" width="107.69999999999999" height="157.0"/></clipPath>
<g clip-path="url(#c140454145590656)"><g filter="url(#soft)">
<polygon points="292.6,306.33 295.5,304.94 298.41,303.53 301.31,302.08 304.21,300.59 307.12,299.05 310.02,297.45 312.92,295.79 315.83,294.05 318.73,292.22 321.63,290.3 324.54,288.27 327.44,286.14 330.34,283.91 333.25,281.58 336.15,279.16 339.05,276.66 341.96,274.09 344.86,271.46 347.76,268.78 350.67,266.06 353.57,263.3 356.47,260.51 359.38,257.69 362.28,254.85 365.18,251.99 368.09,249.12 370.99,246.23 373.89,243.33 376.8,240.42 379.7,237.5 379.7,275.5 376.8,276.77 373.89,278.04 370.99,279.33 368.09,280.63 365.18,281.94 362.28,283.27 359.38,284.62 356.47,285.99 353.57,287.38 350.67,288.81 347.76,290.27 344.86,291.78 341.96,293.33 339.05,294.95 336.15,296.64 333.25,298.4 330.34,300.26 327.44,302.22 324.54,304.27 321.63,306.44 318.73,308.7 315.83,311.06 312.92,313.51 310.02,316.03 307.12,318.62 304.21,321.27 301.31,323.96 298.41,326.7 295.5,329.47 292.6,332.27" fill="#d6d6d6" fill-opacity="0.5"/>
<circle cx="291.2" cy="275" r="4" fill="#e6c25a" fill-opacity="0.65"/>
<line x1="291.2" y1="262" x2="291.2" y2="352" stroke="#e6dba8" stroke-width="1" stroke-opacity="0.65"/>
<circle cx="291.2" cy="296.7" r="4" fill="#e6c25a" fill-opacity="0.65"/>
<circle cx="291.2" cy="300.6" r="4" fill="#e6c25a" fill-opacity="0.65"/>
<circle cx="291.2" cy="316.4" r="4" fill="#eedda0" fill-opacity="0.65"/>
<circle cx="291.2" cy="329.2" r="4" fill="#a6cb99" fill-opacity="0.65"/>
<circle cx="291.2" cy="337.1" r="4" fill="#cadfc0" fill-opacity="0.65"/>
<circle cx="291.2" cy="342" r="4" fill="#cadfc0" fill-opacity="0.65"/>
<line x1="374.8" y1="206.8" x2="374.8" y2="220.6" stroke="#6aa3c8" stroke-width="1" stroke-opacity="0.65"/>
<circle cx="374.8" cy="213.7" r="4" fill="#6aa3c8" fill-opacity="0.65"/>
<line x1="340.9" y1="233" x2="349.7" y2="233" stroke="#a9cbe0" stroke-width="1" stroke-opacity="0.65"/>
<line x1="345.4" y1="225.5" x2="345.4" y2="241.3" stroke="#a9cbe0" stroke-width="1" stroke-opacity="0.65"/>
<circle cx="345.4" cy="233" r="4" fill="#a9cbe0" fill-opacity="0.65"/>
<line x1="361.2" y1="223.6" x2="361.2" y2="237.4" stroke="#6aa3c8" stroke-width="1" stroke-opacity="0.65"/>
<circle cx="361.2" cy="230.1" r="4" fill="#6aa3c8" fill-opacity="0.65"/>
<circle cx="379.7" cy="232" r="4" fill="#cdcbe6" fill-opacity="0.65"/>
<line x1="341.9" y1="251.2" x2="341.9" y2="263" stroke="#6aa3c8" stroke-width="1" stroke-opacity="0.65"/>
<circle cx="341.9" cy="257.3" r="4" fill="#6aa3c8" fill-opacity="0.65"/>
<line x1="364.9" y1="248.2" x2="364.9" y2="260" stroke="#6aa3c8" stroke-width="1" stroke-opacity="0.65"/>
<circle cx="364.9" cy="253.5" r="4" fill="#6aa3c8" fill-opacity="0.65"/>
<line x1="359.6" y1="257" x2="359.6" y2="273" stroke="#a9cbe0" stroke-width="1" stroke-opacity="0.65"/>
<circle cx="359.6" cy="265" r="4" fill="#a9cbe0" fill-opacity="0.65"/>
<circle cx="291.6" cy="272.5" r="4" fill="#e6c25a" fill-opacity="0.65"/>
<line x1="366.5" y1="279.5" x2="390.1" y2="279.5" stroke="#cdcbe6" stroke-width="1" stroke-opacity="0.65"/>
<line x1="378.3" y1="270" x2="378.3" y2="286" stroke="#cdcbe6" stroke-width="1" stroke-opacity="0.65"/>
<circle cx="378.3" cy="279.5" r="4" fill="#cdcbe6" fill-opacity="0.65"/>
<line x1="376.9" y1="285.8" x2="376.9" y2="297.7" stroke="#9290c6" stroke-width="1" stroke-opacity="0.65"/>
<circle cx="376.9" cy="291.2" r="4" fill="#9290c6" fill-opacity="0.65"/>
<line x1="344.8" y1="299" x2="356.6" y2="299" stroke="#a9cbe0" stroke-width="1" stroke-opacity="0.65"/>
<line x1="350.7" y1="281" x2="350.7" y2="317.4" stroke="#a9cbe0" stroke-width="1" stroke-opacity="0.65"/>
<circle cx="350.7" cy="299" r="4" fill="#a9cbe0" fill-opacity="0.65"/>
<line x1="336" y1="306.1" x2="353.7" y2="306.1" stroke="#a9cbe0" stroke-width="1" stroke-opacity="0.65"/>
<line x1="344.8" y1="296.7" x2="344.8" y2="317.4" stroke="#a9cbe0" stroke-width="1" stroke-opacity="0.65"/>
<circle cx="344.8" cy="306.1" r="4" fill="#a9cbe0" fill-opacity="0.65"/>
<circle cx="350.7" cy="312.4" r="4" fill="#cdcbe6" fill-opacity="0.65"/>
<line x1="360.6" y1="319.3" x2="379.3" y2="319.3" stroke="#9290c6" stroke-width="1" stroke-opacity="0.65"/>
<line x1="369.5" y1="310.5" x2="369.5" y2="328.2" stroke="#9290c6" stroke-width="1" stroke-opacity="0.65"/>
<circle cx="369.5" cy="319.3" r="4" fill="#9290c6" fill-opacity="0.65"/>
<line x1="307.4" y1="300.2" x2="333" y2="300.2" stroke="#cadfc0" stroke-width="1" stroke-opacity="0.65"/>
<circle cx="320.2" cy="300.2" r="4" fill="#cadfc0" fill-opacity="0.65"/>
<line x1="292.6" y1="319.3" x2="379.7" y2="256.5" stroke="#a0a0a0" stroke-width="1"/>
</g></g>
<rect x="287.5" y="199.5" width="108.0" height="157.0" fill="none" stroke="#8f8f8f" stroke-width="1"/>
<line x1="291.2" y1="356.5" x2="291.2" y2="358.5" stroke="#555" stroke-width="0.8"/>
<text x="291.2" y="371.2" text-anchor="middle" font-size="12" fill="#4a4a4a">0</text>
<line x1="317.2" y1="356.5" x2="317.2" y2="358.5" stroke="#555" stroke-width="0.8"/>
<text x="317.2" y="371.2" text-anchor="middle" font-size="12" fill="#4a4a4a">0.3</text>
<line x1="343.2" y1="356.5" x2="343.2" y2="358.5" stroke="#555" stroke-width="0.8"/>
<text x="343.2" y="371.2" text-anchor="middle" font-size="12" fill="#4a4a4a">0.6</text>
<line x1="369.2" y1="356.5" x2="369.2" y2="358.5" stroke="#555" stroke-width="0.8"/>
<text x="369.2" y="371.2" text-anchor="middle" font-size="12" fill="#4a4a4a">0.9</text>
<line x1="395.2" y1="356.5" x2="395.2" y2="358.5" stroke="#555" stroke-width="0.8"/>
<text x="395.2" y="371.2" text-anchor="middle" font-size="12" fill="#4a4a4a">1.2</text>
<line x1="285.3" y1="230.8" x2="287.3" y2="230.8" stroke="#555" stroke-width="0.8"/>
<text x="284.5" y="235.10000000000002" text-anchor="end" font-size="12" fill="#4a4a4a">2</text>
<line x1="285.3" y1="271.8" x2="287.3" y2="271.8" stroke="#555" stroke-width="0.8"/>
<text x="284.5" y="276.1" text-anchor="end" font-size="12" fill="#4a4a4a">0</text>
<line x1="285.3" y1="312.8" x2="287.3" y2="312.8" stroke="#555" stroke-width="0.8"/>
<text x="284.5" y="317.1" text-anchor="end" font-size="12" fill="#4a4a4a">-2</text>
<line x1="285.3" y1="353.8" x2="287.3" y2="353.8" stroke="#555" stroke-width="0.8"/>
<text x="284.5" y="358.1" text-anchor="end" font-size="12" fill="#4a4a4a">-4</text>
<text x="289.5" y="209.8" font-size="12" fill="#111">R<tspan font-size="6.4" dy="-4.9" dx="0.3">2</tspan><tspan dy="4.9" dx="0.2">=</tspan><tspan dx="0.3">0.47</tspan></text>
<text x="374.79999999999995" y="351.8" font-size="12" fill="#111">p<tspan font-size="11.5" dy="-3.2" dx="0.4">**</tspan></text>
</g>
<g>
<rect x="418.3" y="199.5" width="107.99999999999994" height="156.89999999999998" fill="#fff"/>
<line x1="436.7" y1="199.5" x2="436.7" y2="356.4" stroke="#f4f4f4" stroke-width="0.8"/>
<line x1="463.7" y1="199.5" x2="463.7" y2="356.4" stroke="#f4f4f4" stroke-width="0.8"/>
<line x1="490.7" y1="199.5" x2="490.7" y2="356.4" stroke="#f4f4f4" stroke-width="0.8"/>
<line x1="517.7" y1="199.5" x2="517.7" y2="356.4" stroke="#f4f4f4" stroke-width="0.8"/>
<line x1="418.3" y1="213.0" x2="526.3" y2="213.0" stroke="#f4f4f4" stroke-width="0.8"/>
<line x1="418.3" y1="253.0" x2="526.3" y2="253.0" stroke="#f4f4f4" stroke-width="0.8"/>
<line x1="418.3" y1="293.0" x2="526.3" y2="293.0" stroke="#f4f4f4" stroke-width="0.8"/>
<line x1="418.3" y1="333.0" x2="526.3" y2="333.0" stroke="#f4f4f4" stroke-width="0.8"/>
<line x1="423.2" y1="199.5" x2="423.2" y2="356.4" stroke="#ececec" stroke-width="1"/>
<line x1="450.2" y1="199.5" x2="450.2" y2="356.4" stroke="#ececec" stroke-width="1"/>
<line x1="477.2" y1="199.5" x2="477.2" y2="356.4" stroke="#ececec" stroke-width="1"/>
<line x1="504.2" y1="199.5" x2="504.2" y2="356.4" stroke="#ececec" stroke-width="1"/>
<line x1="418.3" y1="233" x2="526.3" y2="233" stroke="#ececec" stroke-width="1"/>
<line x1="418.3" y1="273" x2="526.3" y2="273" stroke="#ececec" stroke-width="1"/>
<line x1="418.3" y1="313" x2="526.3" y2="313" stroke="#ececec" stroke-width="1"/>
<line x1="418.3" y1="353" x2="526.3" y2="353" stroke="#ececec" stroke-width="1"/>
<clipPath id="c140454145595072"><rect x="418.3" y="199.5" width="107.99999999999994" height="156.89999999999998"/></clipPath>
<g clip-path="url(#c140454145595072)"><g filter="url(#soft)">
<polygon points="425.7,290.04 428.76,289.23 431.83,288.39 434.89,287.51 437.95,286.6 441.02,285.63 444.08,284.6 447.14,283.51 450.21,282.35 453.27,281.1 456.33,279.76 459.4,278.32 462.46,276.78 465.52,275.14 468.59,273.39 471.65,271.55 474.71,269.62 477.78,267.61 480.84,265.52 483.9,263.38 486.97,261.18 490.03,258.93 493.09,256.64 496.16,254.31 499.22,251.96 502.28,249.58 505.35,247.18 508.41,244.76 511.47,242.32 514.54,239.87 517.6,237.4 517.6,279.4 514.54,280.09 511.47,280.79 508.41,281.5 505.35,282.24 502.28,282.99 499.22,283.76 496.16,284.56 493.09,285.39 490.03,286.25 486.97,287.16 483.9,288.11 480.84,289.12 477.78,290.19 474.71,291.33 471.65,292.55 468.59,293.86 465.52,295.27 462.46,296.78 459.4,298.39 456.33,300.11 453.27,301.92 450.21,303.83 447.14,305.81 444.08,307.88 441.02,310.01 437.95,312.19 434.89,314.43 431.83,316.7 428.76,319.02 425.7,321.36" fill="#d6d6d6" fill-opacity="0.5"/>
<circle cx="423.2" cy="253.2" r="4" fill="#eedda0" fill-opacity="0.65"/>
<line x1="423.2" y1="238" x2="423.2" y2="349.6" stroke="#e6dba8" stroke-width="1" stroke-opacity="0.65"/>
<circle cx="423.2" cy="275.7" r="4" fill="#eedda0" fill-opacity="0.65"/>
<circle cx="423.2" cy="291.3" r="4" fill="#e6c25a" fill-opacity="0.65"/>
<circle cx="423.2" cy="295.4" r="4" fill="#e6c25a" fill-opacity="0.65"/>
<circle cx="423.2" cy="305.7" r="4" fill="#a6cb99" fill-opacity="0.65"/>
<circle cx="423.2" cy="309.7" r="4" fill="#cadfc0" fill-opacity="0.65"/>
<circle cx="423.2" cy="317.9" r="4" fill="#cadfc0" fill-opacity="0.65"/>
<circle cx="423.2" cy="335.3" r="4" fill="#e6c25a" fill-opacity="0.65"/>
<line x1="498.2" y1="211.8" x2="513.5" y2="211.8" stroke="#a9cbe0" stroke-width="1" stroke-opacity="0.65"/>
<line x1="505.4" y1="207.3" x2="505.4" y2="216.5" stroke="#a9cbe0" stroke-width="1" stroke-opacity="0.65"/>
<circle cx="505.4" cy="211.8" r="4" fill="#a9cbe0" fill-opacity="0.65"/>
<circle cx="517.6" cy="213" r="4" fill="#6aa3c8" fill-opacity="0.65"/>
<line x1="483.3" y1="233.2" x2="501.3" y2="233.2" stroke="#6aa3c8" stroke-width="1" stroke-opacity="0.65"/>
<line x1="492.5" y1="227.7" x2="492.5" y2="239" stroke="#6aa3c8" stroke-width="1" stroke-opacity="0.65"/>
<circle cx="492.5" cy="233.2" r="4" fill="#6aa3c8" fill-opacity="0.65"/>
<line x1="499.2" y1="262" x2="512.5" y2="262" stroke="#6aa3c8" stroke-width="1" stroke-opacity="0.65"/>
<line x1="506" y1="254.3" x2="506" y2="268.6" stroke="#6aa3c8" stroke-width="1" stroke-opacity="0.65"/>
<circle cx="506" cy="262" r="4" fill="#6aa3c8" fill-opacity="0.65"/>
<line x1="452.2" y1="298.5" x2="507.4" y2="298.5" stroke="#e2e0ee" stroke-width="1" stroke-opacity="0.65"/>
<circle cx="465.5" cy="298.5" r="4" fill="#e2e0ee" fill-opacity="0.65"/>
<line x1="480.8" y1="293.4" x2="480.8" y2="308.7" stroke="#a9cbe0" stroke-width="1" stroke-opacity="0.65"/>
<circle cx="480.8" cy="300.5" r="4" fill="#a9cbe0" fill-opacity="0.65"/>
<circle cx="489" cy="301.6" r="4" fill="#cdcbe6" fill-opacity="0.65"/>
<line x1="494.7" y1="289.3" x2="494.7" y2="310.8" stroke="#9290c6" stroke-width="1" stroke-opacity="0.65"/>
<circle cx="494.7" cy="300.5" r="4" fill="#9290c6" fill-opacity="0.65"/>
<line x1="495" y1="299.5" x2="508.5" y2="299.5" stroke="#9290c6" stroke-width="1" stroke-opacity="0.65"/>
<line x1="500.9" y1="289.3" x2="500.9" y2="309.7" stroke="#9290c6" stroke-width="1" stroke-opacity="0.65"/>
<circle cx="500.9" cy="299.5" r="4" fill="#9290c6" fill-opacity="0.65"/>
<line x1="491.5" y1="300.5" x2="491.5" y2="348.6" stroke="#a9cbe0" stroke-width="1" stroke-opacity="0.65"/>
<circle cx="491.5" cy="324.7" r="4" fill="#a9cbe0" fill-opacity="0.65"/>
<line x1="425.7" y1="305.7" x2="517.6" y2="258.4" stroke="#a0a0a0" stroke-width="1"/>
</g></g>
<rect x="418.5" y="199.5" width="108.0" height="157.0" fill="none" stroke="#8f8f8f" stroke-width="1"/>
<line x1="423.2" y1="356.4" x2="423.2" y2="358.4" stroke="#555" stroke-width="0.8"/>
<text x="423.2" y="371.09999999999997" text-anchor="middle" font-size="12" fill="#4a4a4a">0</text>
<line x1="450.2" y1="356.4" x2="450.2" y2="358.4" stroke="#555" stroke-width="0.8"/>
<text x="450.2" y="371.09999999999997" text-anchor="middle" font-size="12" fill="#4a4a4a">0.25</text>
<line x1="477.2" y1="356.4" x2="477.2" y2="358.4" stroke="#555" stroke-width="0.8"/>
<text x="477.2" y="371.09999999999997" text-anchor="middle" font-size="12" fill="#4a4a4a">0.5</text>
<line x1="504.2" y1="356.4" x2="504.2" y2="358.4" stroke="#555" stroke-width="0.8"/>
<text x="504.2" y="371.09999999999997" text-anchor="middle" font-size="12" fill="#4a4a4a">0.75</text>
<line x1="416.3" y1="233" x2="418.3" y2="233" stroke="#555" stroke-width="0.8"/>
<text x="415.5" y="237.3" text-anchor="end" font-size="12" fill="#4a4a4a">2</text>
<line x1="416.3" y1="273" x2="418.3" y2="273" stroke="#555" stroke-width="0.8"/>
<text x="415.5" y="277.3" text-anchor="end" font-size="12" fill="#4a4a4a">0</text>
<line x1="416.3" y1="313" x2="418.3" y2="313" stroke="#555" stroke-width="0.8"/>
<text x="415.5" y="317.3" text-anchor="end" font-size="12" fill="#4a4a4a">-2</text>
<line x1="416.3" y1="353" x2="418.3" y2="353" stroke="#555" stroke-width="0.8"/>
<text x="415.5" y="357.3" text-anchor="end" font-size="12" fill="#4a4a4a">-4</text>
<text x="420.5" y="209.8" font-size="12" fill="#111">R<tspan font-size="6.4" dy="-4.9" dx="0.3">2</tspan><tspan dy="4.9" dx="0.2">=</tspan><tspan dx="0.3">0.31</tspan></text>
<text x="505.79999999999995" y="351.7" font-size="12" fill="#111">p<tspan font-size="11.5" dy="0.3" dx="3.6">*</tspan></text>
</g>
<g>
<rect x="549.4" y="199.5" width="104.30000000000007" height="157.0" fill="#fff"/>
<line x1="565.6" y1="199.5" x2="565.6" y2="356.5" stroke="#f4f4f4" stroke-width="0.8"/>
<line x1="589.5" y1="199.5" x2="589.5" y2="356.5" stroke="#f4f4f4" stroke-width="0.8"/>
<line x1="613.4" y1="199.5" x2="613.4" y2="356.5" stroke="#f4f4f4" stroke-width="0.8"/>
<line x1="637.3" y1="199.5" x2="637.3" y2="356.5" stroke="#f4f4f4" stroke-width="0.8"/>
<line x1="549.4" y1="219.0" x2="653.7" y2="219.0" stroke="#f4f4f4" stroke-width="0.8"/>
<line x1="549.4" y1="254.95" x2="653.7" y2="254.95" stroke="#f4f4f4" stroke-width="0.8"/>
<line x1="549.4" y1="290.85" x2="653.7" y2="290.85" stroke="#f4f4f4" stroke-width="0.8"/>
<line x1="549.4" y1="326.75" x2="653.7" y2="326.75" stroke="#f4f4f4" stroke-width="0.8"/>
<line x1="553.7" y1="199.5" x2="553.7" y2="356.5" stroke="#ececec" stroke-width="1"/>
<line x1="577.6" y1="199.5" x2="577.6" y2="356.5" stroke="#ececec" stroke-width="1"/>
<line x1="601.5" y1="199.5" x2="601.5" y2="356.5" stroke="#ececec" stroke-width="1"/>
<line x1="625.4" y1="199.5" x2="625.4" y2="356.5" stroke="#ececec" stroke-width="1"/>
<line x1="649.3" y1="199.5" x2="649.3" y2="356.5" stroke="#ececec" stroke-width="1"/>
<line x1="549.4" y1="201" x2="653.7" y2="201" stroke="#ececec" stroke-width="1"/>
<line x1="549.4" y1="237" x2="653.7" y2="237" stroke="#ececec" stroke-width="1"/>
<line x1="549.4" y1="272.9" x2="653.7" y2="272.9" stroke="#ececec" stroke-width="1"/>
<line x1="549.4" y1="308.8" x2="653.7" y2="308.8" stroke="#ececec" stroke-width="1"/>
<line x1="549.4" y1="344.7" x2="653.7" y2="344.7" stroke="#ececec" stroke-width="1"/>
<clipPath id="c140454145599616"><rect x="549.4" y="199.5" width="104.30000000000007" height="157.0"/></clipPath>
<g clip-path="url(#c140454145599616)"><g filter="url(#soft)">
<polygon points="554.9,272.26 557.95,271.9 561.01,271.52 564.06,271.11 567.11,270.67 570.17,270.19 573.22,269.66 576.27,269.08 579.33,268.43 582.38,267.72 585.43,266.94 588.49,266.07 591.54,265.12 594.59,264.08 597.65,262.96 600.7,261.76 603.75,260.48 606.81,259.13 609.86,257.71 612.91,256.24 615.97,254.73 619.02,253.17 622.07,251.57 625.13,249.95 628.18,248.3 631.23,246.62 634.29,244.93 637.34,243.22 640.39,241.49 643.45,239.75 646.5,238.0 646.5,273.0 643.45,273.26 640.39,273.54 637.34,273.82 634.29,274.13 631.23,274.44 628.18,274.78 625.13,275.14 622.07,275.53 619.02,275.95 615.97,276.41 612.91,276.9 609.86,277.45 606.81,278.05 603.75,278.71 600.7,279.44 597.65,280.25 594.59,281.14 591.54,282.12 588.49,283.18 585.43,284.33 582.38,285.56 579.33,286.86 576.27,288.23 573.22,289.66 570.17,291.15 567.11,292.68 564.06,294.25 561.01,295.85 557.95,297.48 554.9,299.14" fill="#d6d6d6" fill-opacity="0.5"/>
<line x1="553.7" y1="238.2" x2="553.7" y2="255" stroke="#e6c25a" stroke-width="1" stroke-opacity="0.65"/>
<circle cx="553.7" cy="247.8" r="4" fill="#e6c25a" fill-opacity="0.65"/>
<circle cx="553.7" cy="269.5" r="4" fill="#eedda0" fill-opacity="0.65"/>
<circle cx="553.7" cy="270" r="4" fill="#e6c25a" fill-opacity="0.65"/>
<circle cx="553.7" cy="279.6" r="4" fill="#a6cb99" fill-opacity="0.65"/>
<circle cx="553.7" cy="289.3" r="4" fill="#cadfc0" fill-opacity="0.65"/>
<circle cx="553.7" cy="292.9" r="4" fill="#eedda0" fill-opacity="0.65"/>
<circle cx="553.7" cy="301.3" r="4" fill="#e6c25a" fill-opacity="0.65"/>
<circle cx="553.7" cy="304.9" r="4" fill="#b9c6d2" fill-opacity="0.65"/>
<circle cx="553.7" cy="323.5" r="4" fill="#cadfc0" fill-opacity="0.65"/>
<line x1="553.7" y1="310" x2="553.7" y2="352" stroke="#cadfc0" stroke-width="1" stroke-opacity="0.65"/>
<circle cx="553.7" cy="323.5" r="4" fill="#cadfc0" fill-opacity="0.65"/>
<line x1="621.2" y1="208.1" x2="638" y2="208.1" stroke="#6aa3c8" stroke-width="1" stroke-opacity="0.65"/>
<circle cx="629.6" cy="208.1" r="4" fill="#6aa3c8" fill-opacity="0.65"/>
<line x1="603.1" y1="238.2" x2="629.6" y2="238.2" stroke="#a9cbe0" stroke-width="1" stroke-opacity="0.65"/>
<line x1="616.4" y1="234.6" x2="616.4" y2="241.8" stroke="#a9cbe0" stroke-width="1" stroke-opacity="0.65"/>
<circle cx="616.4" cy="238.2" r="4" fill="#a9cbe0" fill-opacity="0.65"/>
<line x1="646.5" y1="231" x2="646.5" y2="245.4" stroke="#6aa3c8" stroke-width="1" stroke-opacity="0.65"/>
<circle cx="646.5" cy="238.2" r="4" fill="#6aa3c8" fill-opacity="0.65"/>
<line x1="642.1" y1="243" x2="642.1" y2="253.8" stroke="#6aa3c8" stroke-width="1" stroke-opacity="0.65"/>
<circle cx="642.1" cy="248.5" r="4" fill="#6aa3c8" fill-opacity="0.65"/>
<circle cx="627.2" cy="266.6" r="4" fill="#a9cbe0" fill-opacity="0.65"/>
<line x1="582.6" y1="277.2" x2="633.2" y2="277.2" stroke="#9290c6" stroke-width="1" stroke-opacity="0.65"/>
<line x1="607.2" y1="268.3" x2="607.2" y2="285.7" stroke="#9290c6" stroke-width="1" stroke-opacity="0.65"/>
<circle cx="607.2" cy="277.2" r="4" fill="#9290c6" fill-opacity="0.65"/>
<line x1="633.2" y1="273.6" x2="633.2" y2="288" stroke="#6aa3c8" stroke-width="1" stroke-opacity="0.65"/>
<circle cx="633.2" cy="280.8" r="4" fill="#6aa3c8" fill-opacity="0.65"/>
<circle cx="600" cy="294.1" r="4" fill="#e2e0ee" fill-opacity="0.65"/>
<line x1="609.1" y1="301.8" x2="627.2" y2="301.8" stroke="#a9cbe0" stroke-width="1" stroke-opacity="0.65"/>
<circle cx="618.3" cy="301.8" r="4" fill="#a9cbe0" fill-opacity="0.65"/>
<line x1="609.6" y1="289.3" x2="609.6" y2="335" stroke="#a9cbe0" stroke-width="1" stroke-opacity="0.65"/>
<circle cx="609.6" cy="305.7" r="4" fill="#a9cbe0" fill-opacity="0.65"/>
<line x1="554.9" y1="285.7" x2="646.5" y2="255.5" stroke="#a0a0a0" stroke-width="1"/>
</g></g>
<rect x="549.5" y="199.5" width="104.0" height="157.0" fill="none" stroke="#8f8f8f" stroke-width="1"/>
<line x1="553.7" y1="356.5" x2="553.7" y2="358.5" stroke="#555" stroke-width="0.8"/>
<text x="553.7" y="371.2" text-anchor="middle" font-size="12" fill="#4a4a4a">0</text>
<line x1="577.6" y1="356.5" x2="577.6" y2="358.5" stroke="#555" stroke-width="0.8"/>
<text x="577.6" y="371.2" text-anchor="middle" font-size="12" fill="#4a4a4a">0.2</text>
<line x1="601.5" y1="356.5" x2="601.5" y2="358.5" stroke="#555" stroke-width="0.8"/>
<text x="601.5" y="371.2" text-anchor="middle" font-size="12" fill="#4a4a4a">0.4</text>
<line x1="625.4" y1="356.5" x2="625.4" y2="358.5" stroke="#555" stroke-width="0.8"/>
<text x="625.4" y="371.2" text-anchor="middle" font-size="12" fill="#4a4a4a">0.6</text>
<line x1="649.3" y1="356.5" x2="649.3" y2="358.5" stroke="#555" stroke-width="0.8"/>
<text x="649.3" y="371.2" text-anchor="middle" font-size="12" fill="#4a4a4a">0.8</text>
<line x1="547.4" y1="201" x2="549.4" y2="201" stroke="#555" stroke-width="0.8"/>
<text x="546.6" y="205.3" text-anchor="end" font-size="12" fill="#4a4a4a">5</text>
<line x1="547.4" y1="237" x2="549.4" y2="237" stroke="#555" stroke-width="0.8"/>
<text x="546.6" y="241.3" text-anchor="end" font-size="12" fill="#4a4a4a">2.5</text>
<line x1="547.4" y1="272.9" x2="549.4" y2="272.9" stroke="#555" stroke-width="0.8"/>
<text x="546.6" y="277.2" text-anchor="end" font-size="12" fill="#4a4a4a">0</text>
<line x1="547.4" y1="308.8" x2="549.4" y2="308.8" stroke="#555" stroke-width="0.8"/>
<text x="546.6" y="313.1" text-anchor="end" font-size="12" fill="#4a4a4a">-2.5</text>
<line x1="547.4" y1="344.7" x2="549.4" y2="344.7" stroke="#555" stroke-width="0.8"/>
<text x="546.6" y="349.0" text-anchor="end" font-size="12" fill="#4a4a4a">-5</text>
<text x="551.6" y="209.8" font-size="12" fill="#111">R<tspan font-size="6.4" dy="-4.9" dx="0.3">2</tspan><tspan dy="4.9" dx="0.2">=</tspan><tspan dx="0.3">0.21</tspan></text>
<text x="630.1999999999999" y="351.8" font-size="12" fill="#111">p<tspan font-size="11.5" dy="0.3" dx="3.6">*</tspan></text>
</g>
<g>
<rect x="161.5" y="377.8" width="107.60000000000002" height="157.40000000000003" fill="#fff"/>
<line x1="171.5" y1="377.8" x2="171.5" y2="535.2" stroke="#f4f4f4" stroke-width="0.8"/>
<line x1="199.1" y1="377.8" x2="199.1" y2="535.2" stroke="#f4f4f4" stroke-width="0.8"/>
<line x1="226.7" y1="377.8" x2="226.7" y2="535.2" stroke="#f4f4f4" stroke-width="0.8"/>
<line x1="254.3" y1="377.8" x2="254.3" y2="535.2" stroke="#f4f4f4" stroke-width="0.8"/>
<line x1="161.5" y1="389.54999999999995" x2="269.1" y2="389.54999999999995" stroke="#f4f4f4" stroke-width="0.8"/>
<line x1="161.5" y1="418.85" x2="269.1" y2="418.85" stroke="#f4f4f4" stroke-width="0.8"/>
<line x1="161.5" y1="448.15" x2="269.1" y2="448.15" stroke="#f4f4f4" stroke-width="0.8"/>
<line x1="161.5" y1="477.45000000000005" x2="269.1" y2="477.45000000000005" stroke="#f4f4f4" stroke-width="0.8"/>
<line x1="161.5" y1="506.75" x2="269.1" y2="506.75" stroke="#f4f4f4" stroke-width="0.8"/>
<line x1="185.3" y1="377.8" x2="185.3" y2="535.2" stroke="#ececec" stroke-width="1"/>
<line x1="212.9" y1="377.8" x2="212.9" y2="535.2" stroke="#ececec" stroke-width="1"/>
<line x1="240.5" y1="377.8" x2="240.5" y2="535.2" stroke="#ececec" stroke-width="1"/>
<line x1="268.1" y1="377.8" x2="268.1" y2="535.2" stroke="#ececec" stroke-width="1"/>
<line x1="161.5" y1="404.2" x2="269.1" y2="404.2" stroke="#ececec" stroke-width="1"/>
<line x1="161.5" y1="433.5" x2="269.1" y2="433.5" stroke="#ececec" stroke-width="1"/>
<line x1="161.5" y1="462.8" x2="269.1" y2="462.8" stroke="#ececec" stroke-width="1"/>
<line x1="161.5" y1="492.1" x2="269.1" y2="492.1" stroke="#ececec" stroke-width="1"/>
<line x1="161.5" y1="521.4" x2="269.1" y2="521.4" stroke="#ececec" stroke-width="1"/>
<clipPath id="c140454145603648"><rect x="161.5" y="377.8" width="107.60000000000002" height="157.40000000000003"/></clipPath>
<g clip-path="url(#c140454145603648)"><g filter="url(#soft)">
<polygon points="167.6,459.4 170.46,458.77 173.31,458.13 176.17,457.49 179.03,456.84 181.88,456.18 184.74,455.53 187.6,454.86 190.45,454.18 193.31,453.5 196.17,452.8 199.02,452.1 201.88,451.37 204.74,450.63 207.59,449.86 210.45,449.07 213.31,448.25 216.16,447.39 219.02,446.47 221.88,445.5 224.73,444.45 227.59,443.31 230.45,442.05 233.3,440.66 236.16,439.11 239.02,437.39 241.87,435.48 244.73,433.39 247.59,431.13 250.44,428.71 253.3,426.17 253.3,447.83 250.44,449.05 247.59,450.39 244.73,451.89 241.87,453.56 239.02,455.41 236.16,457.45 233.3,459.66 230.45,462.03 227.59,464.53 224.73,467.15 221.88,469.86 219.02,472.65 216.16,475.49 213.31,478.39 210.45,481.33 207.59,484.3 204.74,487.29 201.88,490.31 199.02,493.34 196.17,496.4 193.31,499.46 190.45,502.54 187.6,505.62 184.74,508.71 181.88,511.82 179.03,514.92 176.17,518.03 173.31,521.15 170.46,524.27 167.6,527.4" fill="#d6d6d6" fill-opacity="0.5"/>
<line x1="232.2" y1="385.8" x2="232.2" y2="397.6" stroke="#9290c6" stroke-width="1" stroke-opacity="0.65"/>
<circle cx="232.2" cy="391.7" r="4" fill="#9290c6" fill-opacity="0.65"/>
<circle cx="231.6" cy="414.4" r="4" fill="#cdcbe6" fill-opacity="0.65"/>
<line x1="235.6" y1="426.2" x2="253.3" y2="426.2" stroke="#b9c6d2" stroke-width="1" stroke-opacity="0.65"/>
<line x1="244.1" y1="408.5" x2="244.1" y2="431.1" stroke="#b9c6d2" stroke-width="1" stroke-opacity="0.65"/>
<circle cx="244.1" cy="426.2" r="4" fill="#b9c6d2" fill-opacity="0.65"/>
<line x1="252.3" y1="401.6" x2="252.3" y2="431.1" stroke="#cadfc0" stroke-width="1" stroke-opacity="0.65"/>
<circle cx="252.3" cy="418.3" r="4" fill="#cadfc0" fill-opacity="0.65"/>
<circle cx="250.4" cy="419.3" r="4" fill="#a6cb99" fill-opacity="0.65"/>
<line x1="201.5" y1="424.8" x2="233.6" y2="424.8" stroke="#e6c25a" stroke-width="1" stroke-opacity="0.65"/>
<line x1="217.8" y1="402.5" x2="217.8" y2="437" stroke="#e6c25a" stroke-width="1" stroke-opacity="0.65"/>
<circle cx="217.8" cy="424.8" r="4" fill="#e6c25a" fill-opacity="0.65"/>
<line x1="204" y1="439" x2="231.6" y2="439" stroke="#a9cbe0" stroke-width="1" stroke-opacity="0.65"/>
<circle cx="218.4" cy="439" r="4" fill="#a9cbe0" fill-opacity="0.65"/>
<circle cx="213.9" cy="442" r="4" fill="#eedda0" fill-opacity="0.65"/>
<line x1="245.4" y1="429" x2="245.4" y2="451" stroke="#6aa3c8" stroke-width="1" stroke-opacity="0.65"/>
<circle cx="245.4" cy="441" r="4" fill="#6aa3c8" fill-opacity="0.65"/>
<circle cx="250.4" cy="444" r="4" fill="#a6cb99" fill-opacity="0.65"/>
<line x1="242.5" y1="446.9" x2="264.2" y2="446.9" stroke="#6aa3c8" stroke-width="1" stroke-opacity="0.65"/>
<circle cx="253.3" cy="446.9" r="4" fill="#6aa3c8" fill-opacity="0.65"/>
<circle cx="250.4" cy="450.8" r="4" fill="#cadfc0" fill-opacity="0.65"/>
<line x1="195.2" y1="456.9" x2="228.7" y2="456.9" stroke="#6aa3c8" stroke-width="1" stroke-opacity="0.65"/>
<circle cx="211.9" cy="456.9" r="4" fill="#6aa3c8" fill-opacity="0.65"/>
<line x1="217.8" y1="450" x2="217.8" y2="477.6" stroke="#e6c25a" stroke-width="1" stroke-opacity="0.65"/>
<circle cx="217.8" cy="461.8" r="4" fill="#e6c25a" fill-opacity="0.65"/>
<circle cx="212.9" cy="468.7" r="4" fill="#eedda0" fill-opacity="0.65"/>
<line x1="208" y1="472.3" x2="234.6" y2="472.3" stroke="#e6c25a" stroke-width="1" stroke-opacity="0.65"/>
<line x1="223.8" y1="450" x2="223.8" y2="497.3" stroke="#e6c25a" stroke-width="1" stroke-opacity="0.65"/>
<circle cx="223.8" cy="472.3" r="4" fill="#e6c25a" fill-opacity="0.65"/>
<line x1="236.6" y1="457.9" x2="236.6" y2="498.3" stroke="#a9cbe0" stroke-width="1" stroke-opacity="0.65"/>
<circle cx="236.6" cy="477.6" r="4" fill="#a9cbe0" fill-opacity="0.65"/>
<line x1="236" y1="473.7" x2="246.4" y2="473.7" stroke="#6aa3c8" stroke-width="1" stroke-opacity="0.65"/>
<circle cx="240.9" cy="473.7" r="4" fill="#6aa3c8" fill-opacity="0.65"/>
<circle cx="240.5" cy="482.5" r="4" fill="#a9cbe0" fill-opacity="0.65"/>
<circle cx="225.7" cy="491.8" r="4" fill="#eedda0" fill-opacity="0.65"/>
<line x1="167.6" y1="487.4" x2="167.6" y2="505.2" stroke="#e6c25a" stroke-width="1" stroke-opacity="0.65"/>
<circle cx="167.6" cy="495.3" r="4" fill="#e6c25a" fill-opacity="0.65"/>
<line x1="211.9" y1="469.7" x2="211.9" y2="528.8" stroke="#eedda0" stroke-width="1" stroke-opacity="0.65"/>
<circle cx="211.9" cy="508.1" r="4" fill="#eedda0" fill-opacity="0.65"/>
<line x1="167.6" y1="493.4" x2="253.3" y2="437" stroke="#a0a0a0" stroke-width="1"/>
</g></g>
<rect x="161.5" y="377.5" width="108.0" height="158.0" fill="none" stroke="#8f8f8f" stroke-width="1"/>
<line x1="185.3" y1="535.2" x2="185.3" y2="537.2" stroke="#555" stroke-width="0.8"/>
<text x="185.3" y="549.9000000000001" text-anchor="middle" font-size="12" fill="#4a4a4a">0.5</text>
<line x1="212.9" y1="535.2" x2="212.9" y2="537.2" stroke="#555" stroke-width="0.8"/>
<text x="212.9" y="549.9000000000001" text-anchor="middle" font-size="12" fill="#4a4a4a">0.7</text>
<line x1="240.5" y1="535.2" x2="240.5" y2="537.2" stroke="#555" stroke-width="0.8"/>
<text x="240.5" y="549.9000000000001" text-anchor="middle" font-size="12" fill="#4a4a4a">0.9</text>
<line x1="268.1" y1="535.2" x2="268.1" y2="537.2" stroke="#555" stroke-width="0.8"/>
<text x="268.1" y="549.9000000000001" text-anchor="middle" font-size="12" fill="#4a4a4a">1.1</text>
<line x1="159.5" y1="404.2" x2="161.5" y2="404.2" stroke="#555" stroke-width="0.8"/>
<text x="158.7" y="408.5" text-anchor="end" font-size="12" fill="#4a4a4a">1</text>
<line x1="159.5" y1="433.5" x2="161.5" y2="433.5" stroke="#555" stroke-width="0.8"/>
<text x="158.7" y="437.8" text-anchor="end" font-size="12" fill="#4a4a4a">0</text>
<line x1="159.5" y1="462.8" x2="161.5" y2="462.8" stroke="#555" stroke-width="0.8"/>
<text x="158.7" y="467.1" text-anchor="end" font-size="12" fill="#4a4a4a">-1</text>
<line x1="159.5" y1="492.1" x2="161.5" y2="492.1" stroke="#555" stroke-width="0.8"/>
<text x="158.7" y="496.40000000000003" text-anchor="end" font-size="12" fill="#4a4a4a">-2</text>
<line x1="159.5" y1="521.4" x2="161.5" y2="521.4" stroke="#555" stroke-width="0.8"/>
<text x="158.7" y="525.6999999999999" text-anchor="end" font-size="12" fill="#4a4a4a">-3</text>
<text x="163.7" y="388.1" font-size="12" fill="#111">R<tspan font-size="6.4" dy="-4.9" dx="0.3">2</tspan><tspan dy="4.9" dx="0.2">=</tspan><tspan dx="0.3">0.23</tspan></text>
<text x="247.4" y="530.5" font-size="12" fill="#111">p<tspan font-size="11.5" dy="0.3" dx="3.6">*</tspan></text>
</g>
<g>
<rect x="288" y="377.8" width="108" height="157.40000000000003" fill="#fff"/>
<line x1="304.7" y1="377.8" x2="304.7" y2="535.2" stroke="#f4f4f4" stroke-width="0.8"/>
<line x1="328.9" y1="377.8" x2="328.9" y2="535.2" stroke="#f4f4f4" stroke-width="0.8"/>
<line x1="353.1" y1="377.8" x2="353.1" y2="535.2" stroke="#f4f4f4" stroke-width="0.8"/>
<line x1="377.3" y1="377.8" x2="377.3" y2="535.2" stroke="#f4f4f4" stroke-width="0.8"/>
<line x1="288" y1="395.9" x2="396" y2="395.9" stroke="#f4f4f4" stroke-width="0.8"/>
<line x1="288" y1="428.70000000000005" x2="396" y2="428.70000000000005" stroke="#f4f4f4" stroke-width="0.8"/>
<line x1="288" y1="461.5" x2="396" y2="461.5" stroke="#f4f4f4" stroke-width="0.8"/>
<line x1="288" y1="494.29999999999995" x2="396" y2="494.29999999999995" stroke="#f4f4f4" stroke-width="0.8"/>
<line x1="288" y1="527.1" x2="396" y2="527.1" stroke="#f4f4f4" stroke-width="0.8"/>
<line x1="292.6" y1="377.8" x2="292.6" y2="535.2" stroke="#ececec" stroke-width="1"/>
<line x1="316.8" y1="377.8" x2="316.8" y2="535.2" stroke="#ececec" stroke-width="1"/>
<line x1="341" y1="377.8" x2="341" y2="535.2" stroke="#ececec" stroke-width="1"/>
<line x1="365.2" y1="377.8" x2="365.2" y2="535.2" stroke="#ececec" stroke-width="1"/>
<line x1="389.4" y1="377.8" x2="389.4" y2="535.2" stroke="#ececec" stroke-width="1"/>
<line x1="288" y1="379.5" x2="396" y2="379.5" stroke="#ececec" stroke-width="1"/>
<line x1="288" y1="412.3" x2="396" y2="412.3" stroke="#ececec" stroke-width="1"/>
<line x1="288" y1="445.1" x2="396" y2="445.1" stroke="#ececec" stroke-width="1"/>
<line x1="288" y1="477.9" x2="396" y2="477.9" stroke="#ececec" stroke-width="1"/>
<line x1="288" y1="510.7" x2="396" y2="510.7" stroke="#ececec" stroke-width="1"/>
<clipPath id="c140454145624512"><rect x="288" y="377.8" width="108" height="157.40000000000003"/></clipPath>
<g clip-path="url(#c140454145624512)"><g filter="url(#soft)">
<polygon points="294.6,488.23 297.51,485.75 300.42,483.23 303.33,480.67 306.24,478.07 309.15,475.42 312.06,472.74 314.97,470.02 317.88,467.26 320.79,464.47 323.7,461.65 326.61,458.81 329.52,455.95 332.43,453.06 335.34,450.15 338.25,447.23 341.16,444.3 344.07,441.35 346.98,438.39 349.89,435.42 352.8,432.44 355.71,429.45 358.62,426.45 361.53,423.45 364.44,420.44 367.35,417.43 370.26,414.41 373.17,411.39 376.08,408.36 378.99,405.33 381.9,402.3 381.9,436.3 378.99,438.33 376.08,440.37 373.17,442.41 370.26,444.45 367.35,446.5 364.44,448.56 361.53,450.62 358.62,452.68 355.71,454.75 352.8,456.83 349.89,458.92 346.98,461.01 344.07,463.12 341.16,465.24 338.25,467.37 335.34,469.51 332.43,471.67 329.52,473.85 326.61,476.06 323.7,478.28 320.79,480.53 317.88,482.81 314.97,485.12 312.06,487.46 309.15,489.84 306.24,492.27 303.33,494.73 300.42,497.23 297.51,499.78 294.6,502.37" fill="#d6d6d6" fill-opacity="0.5"/>
<line x1="292.6" y1="470" x2="292.6" y2="527" stroke="#e6c25a" stroke-width="1" stroke-opacity="0.65"/>
<circle cx="292.6" cy="480.5" r="4" fill="#e6c25a" fill-opacity="0.65"/>
<circle cx="292.6" cy="480.5" r="4" fill="#e6c25a" fill-opacity="0.65"/>
<circle cx="292.6" cy="493" r="4" fill="#e6c25a" fill-opacity="0.65"/>
<circle cx="292.6" cy="495.3" r="4" fill="#e6c25a" fill-opacity="0.65"/>
<circle cx="292.6" cy="504.8" r="4" fill="#6aa3c8" fill-opacity="0.65"/>
<circle cx="292.6" cy="512.1" r="4" fill="#eedda0" fill-opacity="0.65"/>
<line x1="363.9" y1="385.8" x2="363.9" y2="397.6" stroke="#cdcbe6" stroke-width="1" stroke-opacity="0.65"/>
<circle cx="363.9" cy="391.7" r="4" fill="#cdcbe6" fill-opacity="0.65"/>
<line x1="374.4" y1="395.6" x2="391.1" y2="395.6" stroke="#cdcbe6" stroke-width="1" stroke-opacity="0.65"/>
<circle cx="381.9" cy="395.6" r="4" fill="#cdcbe6" fill-opacity="0.65"/>
<circle cx="372" cy="403.5" r="4" fill="#9290c6" fill-opacity="0.65"/>
<line x1="337.9" y1="427.6" x2="348.8" y2="427.6" stroke="#a9cbe0" stroke-width="1" stroke-opacity="0.65"/>
<line x1="342.8" y1="421.3" x2="342.8" y2="433.1" stroke="#a9cbe0" stroke-width="1" stroke-opacity="0.65"/>
<circle cx="342.8" cy="427.6" r="4" fill="#a9cbe0" fill-opacity="0.65"/>
<line x1="346.8" y1="447.9" x2="356.6" y2="447.9" stroke="#a9cbe0" stroke-width="1" stroke-opacity="0.65"/>
<line x1="351.7" y1="437" x2="351.7" y2="458.7" stroke="#a9cbe0" stroke-width="1" stroke-opacity="0.65"/>
<circle cx="351.7" cy="447.9" r="4" fill="#a9cbe0" fill-opacity="0.65"/>
<line x1="322.5" y1="442.9" x2="322.5" y2="462" stroke="#a9cbe0" stroke-width="1" stroke-opacity="0.65"/>
<circle cx="322.5" cy="455.8" r="4" fill="#a9cbe0" fill-opacity="0.65"/>
<line x1="362.2" y1="437" x2="362.2" y2="468" stroke="#a9cbe0" stroke-width="1" stroke-opacity="0.65"/>
<circle cx="362.2" cy="457.8" r="4" fill="#a9cbe0" fill-opacity="0.65"/>
<line x1="361.6" y1="457.9" x2="361.6" y2="479.6" stroke="#9290c6" stroke-width="1" stroke-opacity="0.65"/>
<circle cx="361.6" cy="470.7" r="4" fill="#9290c6" fill-opacity="0.65"/>
<line x1="307.4" y1="472.1" x2="330" y2="472.1" stroke="#6aa3c8" stroke-width="1" stroke-opacity="0.65"/>
<line x1="319.2" y1="460.8" x2="319.2" y2="482.5" stroke="#6aa3c8" stroke-width="1" stroke-opacity="0.65"/>
<circle cx="319.2" cy="472.1" r="4" fill="#6aa3c8" fill-opacity="0.65"/>
<circle cx="307.4" cy="477.6" r="4" fill="#cadfc0" fill-opacity="0.65"/>
<circle cx="322.2" cy="479.6" r="4" fill="#cadfc0" fill-opacity="0.65"/>
<line x1="330.6" y1="474.6" x2="330.6" y2="490.4" stroke="#cadfc0" stroke-width="1" stroke-opacity="0.65"/>
<circle cx="330.6" cy="480.5" r="4" fill="#cadfc0" fill-opacity="0.65"/>
<line x1="295.5" y1="484.5" x2="317.2" y2="484.5" stroke="#6aa3c8" stroke-width="1" stroke-opacity="0.65"/>
<line x1="306.4" y1="479.6" x2="306.4" y2="490.4" stroke="#6aa3c8" stroke-width="1" stroke-opacity="0.65"/>
<circle cx="306.4" cy="484.5" r="4" fill="#6aa3c8" fill-opacity="0.65"/>
<circle cx="315.3" cy="486.5" r="4" fill="#cadfc0" fill-opacity="0.65"/>
<line x1="337.9" y1="475.6" x2="337.9" y2="495.3" stroke="#6aa3c8" stroke-width="1" stroke-opacity="0.65"/>
<circle cx="337.9" cy="485.5" r="4" fill="#6aa3c8" fill-opacity="0.65"/>
<line x1="313.3" y1="489.4" x2="313.3" y2="507.2" stroke="#cadfc0" stroke-width="1" stroke-opacity="0.65"/>
<circle cx="313.3" cy="495.7" r="4" fill="#cadfc0" fill-opacity="0.65"/>
<line x1="294.6" y1="495.3" x2="381.9" y2="419.3" stroke="#a0a0a0" stroke-width="1"/>
</g></g>
<rect x="288.5" y="377.5" width="108.0" height="158.0" fill="none" stroke="#8f8f8f" stroke-width="1"/>
<line x1="292.6" y1="535.2" x2="292.6" y2="537.2" stroke="#555" stroke-width="0.8"/>
<text x="292.6" y="549.9000000000001" text-anchor="middle" font-size="12" fill="#4a4a4a">0</text>
<line x1="316.8" y1="535.2" x2="316.8" y2="537.2" stroke="#555" stroke-width="0.8"/>
<text x="316.8" y="549.9000000000001" text-anchor="middle" font-size="12" fill="#4a4a4a">0.25</text>
<line x1="341" y1="535.2" x2="341" y2="537.2" stroke="#555" stroke-width="0.8"/>
<text x="341" y="549.9000000000001" text-anchor="middle" font-size="12" fill="#4a4a4a">0.5</text>
<line x1="365.2" y1="535.2" x2="365.2" y2="537.2" stroke="#555" stroke-width="0.8"/>
<text x="365.2" y="549.9000000000001" text-anchor="middle" font-size="12" fill="#4a4a4a">0.75</text>
<line x1="389.4" y1="535.2" x2="389.4" y2="537.2" stroke="#555" stroke-width="0.8"/>
<text x="389.4" y="549.9000000000001" text-anchor="middle" font-size="12" fill="#4a4a4a">1</text>
<line x1="286" y1="379.5" x2="288" y2="379.5" stroke="#555" stroke-width="0.8"/>
<text x="285.2" y="383.8" text-anchor="end" font-size="12" fill="#4a4a4a">4</text>
<line x1="286" y1="412.3" x2="288" y2="412.3" stroke="#555" stroke-width="0.8"/>
<text x="285.2" y="416.6" text-anchor="end" font-size="12" fill="#4a4a4a">2</text>
<line x1="286" y1="445.1" x2="288" y2="445.1" stroke="#555" stroke-width="0.8"/>
<text x="285.2" y="449.40000000000003" text-anchor="end" font-size="12" fill="#4a4a4a">0</text>
<line x1="286" y1="477.9" x2="288" y2="477.9" stroke="#555" stroke-width="0.8"/>
<text x="285.2" y="482.2" text-anchor="end" font-size="12" fill="#4a4a4a">-2</text>
<line x1="286" y1="510.7" x2="288" y2="510.7" stroke="#555" stroke-width="0.8"/>
<text x="285.2" y="515.0" text-anchor="end" font-size="12" fill="#4a4a4a">-4</text>
<text x="290.2" y="388.1" font-size="12" fill="#111">R<tspan font-size="6.4" dy="-4.9" dx="0.3">2</tspan><tspan dy="4.9" dx="0.2">=</tspan><tspan dx="0.3">0.66</tspan></text>
<text x="370.79999999999995" y="530.5" font-size="12" fill="#111">p<tspan font-size="11.5" dy="-3.2" dx="0.4">**</tspan></text>
</g>
<g>
<rect x="419.4" y="377.4" width="108.0" height="158.0" fill="#fff"/>
<line x1="438.7" y1="377.4" x2="438.7" y2="535.4" stroke="#f4f4f4" stroke-width="0.8"/>
<line x1="467.6" y1="377.4" x2="467.6" y2="535.4" stroke="#f4f4f4" stroke-width="0.8"/>
<line x1="496.5" y1="377.4" x2="496.5" y2="535.4" stroke="#f4f4f4" stroke-width="0.8"/>
<line x1="525.4" y1="377.4" x2="525.4" y2="535.4" stroke="#f4f4f4" stroke-width="0.8"/>
<line x1="419.4" y1="407.20000000000005" x2="527.4" y2="407.20000000000005" stroke="#f4f4f4" stroke-width="0.8"/>
<line x1="419.4" y1="466.0" x2="527.4" y2="466.0" stroke="#f4f4f4" stroke-width="0.8"/>
<line x1="419.4" y1="524.8" x2="527.4" y2="524.8" stroke="#f4f4f4" stroke-width="0.8"/>
<line x1="424.2" y1="377.4" x2="424.2" y2="535.4" stroke="#ececec" stroke-width="1"/>
<line x1="453.1" y1="377.4" x2="453.1" y2="535.4" stroke="#ececec" stroke-width="1"/>
<line x1="482" y1="377.4" x2="482" y2="535.4" stroke="#ececec" stroke-width="1"/>
<line x1="510.9" y1="377.4" x2="510.9" y2="535.4" stroke="#ececec" stroke-width="1"/>
<line x1="419.4" y1="377.8" x2="527.4" y2="377.8" stroke="#ececec" stroke-width="1"/>
<line x1="419.4" y1="436.6" x2="527.4" y2="436.6" stroke="#ececec" stroke-width="1"/>
<line x1="419.4" y1="495.4" x2="527.4" y2="495.4" stroke="#ececec" stroke-width="1"/>
<clipPath id="c140454145629632"><rect x="419.4" y="377.4" width="108.0" height="158.0"/></clipPath>
<g clip-path="url(#c140454145629632)"><g filter="url(#soft)">
<polygon points="425.7,475.02 428.83,473.37 431.97,471.67 435.1,469.91 438.23,468.1 441.37,466.22 444.5,464.28 447.63,462.27 450.77,460.19 453.9,458.05 457.03,455.85 460.17,453.6 463.3,451.29 466.43,448.94 469.57,446.55 472.7,444.12 475.83,441.67 478.97,439.19 482.1,436.68 485.23,434.15 488.37,431.61 491.5,429.05 494.63,426.48 497.77,423.9 500.9,421.31 504.03,418.71 507.17,416.1 510.3,413.48 513.43,410.86 516.57,408.23 519.7,405.6 519.7,442.6 516.57,443.94 513.43,445.29 510.3,446.64 507.17,447.99 504.03,449.36 500.9,450.73 497.77,452.11 494.63,453.5 491.5,454.91 488.37,456.32 485.23,457.75 482.1,459.2 478.97,460.67 475.83,462.16 472.7,463.68 469.57,465.22 466.43,466.81 463.3,468.43 460.17,470.1 457.03,471.81 453.9,473.59 450.77,475.42 447.63,477.32 444.5,479.28 441.37,481.31 438.23,483.41 435.1,485.57 431.97,487.79 428.83,490.06 425.7,492.38" fill="#d6d6d6" fill-opacity="0.5"/>
<line x1="424.2" y1="506" x2="424.2" y2="527.5" stroke="#e6dba8" stroke-width="1" stroke-opacity="0.65"/>
<line x1="424.2" y1="442" x2="424.2" y2="452" stroke="#a9cbe0" stroke-width="1" stroke-opacity="0.65"/>
<circle cx="424.2" cy="450.3" r="4" fill="#b9c6d2" fill-opacity="0.65"/>
<circle cx="424.2" cy="461.3" r="4" fill="#cadfc0" fill-opacity="0.65"/>
<circle cx="424.2" cy="470.8" r="4" fill="#cadfc0" fill-opacity="0.65"/>
<circle cx="424.2" cy="476" r="4" fill="#6fa6b0" fill-opacity="0.65"/>
<circle cx="424.2" cy="481" r="4" fill="#a6cb99" fill-opacity="0.65"/>
<circle cx="424.2" cy="484.5" r="4" fill="#cadfc0" fill-opacity="0.65"/>
<circle cx="424.2" cy="487.4" r="4" fill="#cadfc0" fill-opacity="0.65"/>
<circle cx="424.2" cy="492.2" r="4" fill="#b9c6d2" fill-opacity="0.65"/>
<circle cx="424.2" cy="498.5" r="4" fill="#eedda0" fill-opacity="0.65"/>
<circle cx="424.2" cy="504" r="4" fill="#e6c25a" fill-opacity="0.65"/>
<line x1="515" y1="384.9" x2="525" y2="384.9" stroke="#9290c6" stroke-width="1" stroke-opacity="0.65"/>
<circle cx="520.1" cy="384.9" r="4" fill="#9290c6" fill-opacity="0.65"/>
<line x1="504.3" y1="406.1" x2="516.6" y2="406.1" stroke="#cdcbe6" stroke-width="1" stroke-opacity="0.65"/>
<circle cx="510.1" cy="406.1" r="4" fill="#cdcbe6" fill-opacity="0.65"/>
<line x1="456.7" y1="456.1" x2="456.7" y2="471.5" stroke="#a9cbe0" stroke-width="1" stroke-opacity="0.65"/>
<circle cx="456.7" cy="463.3" r="4" fill="#a9cbe0" fill-opacity="0.65"/>
<line x1="445.7" y1="471.5" x2="445.7" y2="488.8" stroke="#a9cbe0" stroke-width="1" stroke-opacity="0.65"/>
<circle cx="445.7" cy="480.2" r="4" fill="#a9cbe0" fill-opacity="0.65"/>
<line x1="481.9" y1="469" x2="495.1" y2="469" stroke="#a9cbe0" stroke-width="1" stroke-opacity="0.65"/>
<line x1="490.6" y1="447.6" x2="490.6" y2="489.9" stroke="#a9cbe0" stroke-width="1" stroke-opacity="0.65"/>
<circle cx="490.6" cy="469" r="4" fill="#a9cbe0" fill-opacity="0.65"/>
<circle cx="487" cy="472" r="4" fill="#e2e0ee" fill-opacity="0.65"/>
<line x1="499.6" y1="465.3" x2="499.6" y2="478.6" stroke="#9290c6" stroke-width="1" stroke-opacity="0.65"/>
<circle cx="499.6" cy="472" r="4" fill="#9290c6" fill-opacity="0.65"/>
<line x1="425.7" y1="483.7" x2="519.7" y2="424.1" stroke="#a0a0a0" stroke-width="1"/>
</g></g>
<rect x="419.5" y="377.5" width="108.0" height="158.0" fill="none" stroke="#8f8f8f" stroke-width="1"/>
<line x1="424.2" y1="535.4" x2="424.2" y2="537.4" stroke="#555" stroke-width="0.8"/>
<text x="424.2" y="550.1" text-anchor="middle" font-size="12" fill="#4a4a4a">0</text>
<line x1="453.1" y1="535.4" x2="453.1" y2="537.4" stroke="#555" stroke-width="0.8"/>
<text x="453.1" y="550.1" text-anchor="middle" font-size="12" fill="#4a4a4a">0.25</text>
<line x1="482" y1="535.4" x2="482" y2="537.4" stroke="#555" stroke-width="0.8"/>
<text x="482" y="550.1" text-anchor="middle" font-size="12" fill="#4a4a4a">0.5</text>
<line x1="510.9" y1="535.4" x2="510.9" y2="537.4" stroke="#555" stroke-width="0.8"/>
<text x="510.9" y="550.1" text-anchor="middle" font-size="12" fill="#4a4a4a">0.75</text>
<line x1="417.4" y1="377.8" x2="419.4" y2="377.8" stroke="#555" stroke-width="0.8"/>
<text x="416.59999999999997" y="382.1" text-anchor="end" font-size="12" fill="#4a4a4a">5</text>
<line x1="417.4" y1="436.6" x2="419.4" y2="436.6" stroke="#555" stroke-width="0.8"/>
<text x="416.59999999999997" y="440.90000000000003" text-anchor="end" font-size="12" fill="#4a4a4a">0</text>
<line x1="417.4" y1="495.4" x2="419.4" y2="495.4" stroke="#555" stroke-width="0.8"/>
<text x="416.59999999999997" y="499.7" text-anchor="end" font-size="12" fill="#4a4a4a">-5</text>
<text x="421.59999999999997" y="387.7" font-size="12" fill="#111">R<tspan font-size="6.4" dy="-4.9" dx="0.3">2</tspan><tspan dy="4.9" dx="0.2">=</tspan><tspan dx="0.3">0.58</tspan></text>
<text x="504.79999999999995" y="530.6999999999999" font-size="12" fill="#111">p<tspan font-size="11.5" dy="-3.2" dx="0.4">**</tspan></text>
</g>
<g>
<rect x="546.3" y="378.5" width="108.10000000000002" height="156.79999999999995" fill="#fff"/>
<line x1="561.9" y1="378.5" x2="561.9" y2="535.3" stroke="#f4f4f4" stroke-width="0.8"/>
<line x1="585.4" y1="378.5" x2="585.4" y2="535.3" stroke="#f4f4f4" stroke-width="0.8"/>
<line x1="608.9" y1="378.5" x2="608.9" y2="535.3" stroke="#f4f4f4" stroke-width="0.8"/>
<line x1="632.4" y1="378.5" x2="632.4" y2="535.3" stroke="#f4f4f4" stroke-width="0.8"/>
<line x1="546.3" y1="418.5" x2="654.4" y2="418.5" stroke="#f4f4f4" stroke-width="0.8"/>
<line x1="546.3" y1="469.1" x2="654.4" y2="469.1" stroke="#f4f4f4" stroke-width="0.8"/>
<line x1="546.3" y1="519.7" x2="654.4" y2="519.7" stroke="#f4f4f4" stroke-width="0.8"/>
<line x1="550.2" y1="378.5" x2="550.2" y2="535.3" stroke="#ececec" stroke-width="1"/>
<line x1="573.7" y1="378.5" x2="573.7" y2="535.3" stroke="#ececec" stroke-width="1"/>
<line x1="597.2" y1="378.5" x2="597.2" y2="535.3" stroke="#ececec" stroke-width="1"/>
<line x1="620.7" y1="378.5" x2="620.7" y2="535.3" stroke="#ececec" stroke-width="1"/>
<line x1="644.2" y1="378.5" x2="644.2" y2="535.3" stroke="#ececec" stroke-width="1"/>
<line x1="546.3" y1="393.2" x2="654.4" y2="393.2" stroke="#ececec" stroke-width="1"/>
<line x1="546.3" y1="443.8" x2="654.4" y2="443.8" stroke="#ececec" stroke-width="1"/>
<line x1="546.3" y1="494.4" x2="654.4" y2="494.4" stroke="#ececec" stroke-width="1"/>
<clipPath id="c140454145634816"><rect x="546.3" y="378.5" width="108.10000000000002" height="156.79999999999995"/></clipPath>
<g clip-path="url(#c140454145634816)"><g filter="url(#soft)">
<polygon points="553.7,476.29 556.66,474.37 559.61,472.36 562.57,470.28 565.53,468.12 568.48,465.89 571.44,463.61 574.4,461.29 577.35,458.93 580.31,456.54 583.27,454.12 586.22,451.68 589.18,449.23 592.14,446.76 595.09,444.27 598.05,441.78 601.01,439.28 603.96,436.77 606.92,434.26 609.88,431.74 612.83,429.21 615.79,426.68 618.75,424.15 621.7,421.61 624.66,419.08 627.62,416.53 630.57,413.99 633.53,411.45 636.49,408.9 639.44,406.35 642.4,403.8 642.4,443.8 639.44,445.08 636.49,446.37 633.53,447.65 630.57,448.94 627.62,450.23 624.66,451.52 621.7,452.82 618.75,454.12 615.79,455.42 612.83,456.72 609.88,458.03 606.92,459.34 603.96,460.66 601.01,461.99 598.05,463.32 595.09,464.66 592.14,466.01 589.18,467.37 586.22,468.75 583.27,470.15 580.31,471.56 577.35,473.0 574.4,474.48 571.44,475.99 568.48,477.54 565.53,479.15 562.57,480.82 559.61,482.57 556.66,484.4 553.7,486.31" fill="#d6d6d6" fill-opacity="0.5"/>
<line x1="550.2" y1="503" x2="550.2" y2="528.5" stroke="#e6dba8" stroke-width="1" stroke-opacity="0.65"/>
<line x1="550.2" y1="440" x2="550.2" y2="452" stroke="#a9cbe0" stroke-width="1" stroke-opacity="0.65"/>
<circle cx="550.2" cy="451.1" r="4" fill="#a9cbe0" fill-opacity="0.65"/>
<circle cx="550.2" cy="463.7" r="4" fill="#a9cbe0" fill-opacity="0.65"/>
<circle cx="550.2" cy="468" r="4" fill="#b9c6d2" fill-opacity="0.65"/>
<circle cx="550.2" cy="471.5" r="4" fill="#6fa6b0" fill-opacity="0.65"/>
<circle cx="550.2" cy="475" r="4" fill="#6fa6b0" fill-opacity="0.65"/>
<circle cx="550.2" cy="478.7" r="4" fill="#6fa6b0" fill-opacity="0.65"/>
<circle cx="550.2" cy="484.3" r="4" fill="#cadfc0" fill-opacity="0.65"/>
<circle cx="550.2" cy="487.4" r="4" fill="#cadfc0" fill-opacity="0.65"/>
<circle cx="550.2" cy="494.5" r="4" fill="#eedda0" fill-opacity="0.65"/>
<circle cx="550.2" cy="500" r="4" fill="#e6c25a" fill-opacity="0.65"/>
<circle cx="550.2" cy="502.5" r="4" fill="#e6c25a" fill-opacity="0.65"/>
<line x1="635.2" y1="389.3" x2="650.1" y2="389.3" stroke="#9290c6" stroke-width="1" stroke-opacity="0.65"/>
<circle cx="642.4" cy="389.3" r="4" fill="#9290c6" fill-opacity="0.65"/>
<line x1="622.4" y1="416.6" x2="622.4" y2="429.8" stroke="#cdcbe6" stroke-width="1" stroke-opacity="0.65"/>
<circle cx="622.4" cy="423.1" r="4" fill="#cdcbe6" fill-opacity="0.65"/>
<line x1="612.7" y1="469.8" x2="623.6" y2="469.8" stroke="#9290c6" stroke-width="1" stroke-opacity="0.65"/>
<line x1="617.6" y1="464.5" x2="617.6" y2="475.3" stroke="#9290c6" stroke-width="1" stroke-opacity="0.65"/>
<circle cx="617.6" cy="469.8" r="4" fill="#9290c6" fill-opacity="0.65"/>
<circle cx="620.7" cy="472.2" r="4" fill="#cdcbe6" fill-opacity="0.65"/>
<line x1="553.7" y1="481.3" x2="642.4" y2="423.8" stroke="#a0a0a0" stroke-width="1"/>
</g></g>
<rect x="546.5" y="378.5" width="108.0" height="157.0" fill="none" stroke="#8f8f8f" stroke-width="1"/>
<line x1="550.2" y1="535.3" x2="550.2" y2="537.3" stroke="#555" stroke-width="0.8"/>
<text x="550.2" y="550.0" text-anchor="middle" font-size="12" fill="#4a4a4a">0</text>
<line x1="573.7" y1="535.3" x2="573.7" y2="537.3" stroke="#555" stroke-width="0.8"/>
<text x="573.7" y="550.0" text-anchor="middle" font-size="12" fill="#4a4a4a">0.2</text>
<line x1="597.2" y1="535.3" x2="597.2" y2="537.3" stroke="#555" stroke-width="0.8"/>
<text x="597.2" y="550.0" text-anchor="middle" font-size="12" fill="#4a4a4a">0.4</text>
<line x1="620.7" y1="535.3" x2="620.7" y2="537.3" stroke="#555" stroke-width="0.8"/>
<text x="620.7" y="550.0" text-anchor="middle" font-size="12" fill="#4a4a4a">0.6</text>
<line x1="644.2" y1="535.3" x2="644.2" y2="537.3" stroke="#555" stroke-width="0.8"/>
<text x="644.2" y="550.0" text-anchor="middle" font-size="12" fill="#4a4a4a">0.8</text>
<line x1="544.3" y1="393.2" x2="546.3" y2="393.2" stroke="#555" stroke-width="0.8"/>
<text x="543.5" y="397.5" text-anchor="end" font-size="12" fill="#4a4a4a">5</text>
<line x1="544.3" y1="443.8" x2="546.3" y2="443.8" stroke="#555" stroke-width="0.8"/>
<text x="543.5" y="448.1" text-anchor="end" font-size="12" fill="#4a4a4a">0</text>
<line x1="544.3" y1="494.4" x2="546.3" y2="494.4" stroke="#555" stroke-width="0.8"/>
<text x="543.5" y="498.7" text-anchor="end" font-size="12" fill="#4a4a4a">-5</text>
<text x="548.5" y="388.8" font-size="12" fill="#111">R<tspan font-size="6.4" dy="-4.9" dx="0.3">2</tspan><tspan dy="4.9" dx="0.2">=</tspan><tspan dx="0.3">0.55</tspan></text>
<text x="630.1999999999999" y="530.5999999999999" font-size="12" fill="#111">p<tspan font-size="11.5" dy="-3.2" dx="0.4">**</tspan></text>
</g>
<rect x="274" y="438" width="6.8" height="13" fill="#fff"/>
<text x="72.1" y="9.3" font-size="12" fill="#333">media</text>
<text x="179.4" y="9.3" font-size="11.7" fill="#333">0.25 x WT IC<tspan font-size="6.9" dy="3.3" dx="0.5">90</tspan></text>
<text x="306.1" y="9.3" font-size="11.7" fill="#333">2 x WT IC<tspan font-size="6.9" dy="3.3" dx="0.5">90</tspan></text>
<text x="439.4" y="9.3" font-size="11.7" fill="#333">4 x WT IC<tspan font-size="6.9" dy="3.3" dx="0.5">90</tspan></text>
<text x="566.2" y="9.3" font-size="11.7" fill="#333">8 x WT IC<tspan font-size="6.9" dy="3.3" dx="0.5">90</tspan></text>
<text x="659" y="100.3" font-size="12" fill="#333">AMK</text>
<text x="659" y="283.6" font-size="12" fill="#333">FEP</text>
<text x="659" y="462.3" font-size="12" fill="#333">DOX</text>
<text x="241" y="566" font-size="12" fill="#1a1a1a" textLength="220" lengthAdjust="spacingAndGlyphs">Relative fitness in single growth conditions</text>
<text transform="translate(9.4,380) rotate(-90)" x="0" y="0" font-size="12" fill="#1a1a1a" textLength="240" lengthAdjust="spacingAndGlyphs">Relative fitness in the competition experiment</text>
</svg></body></html>
